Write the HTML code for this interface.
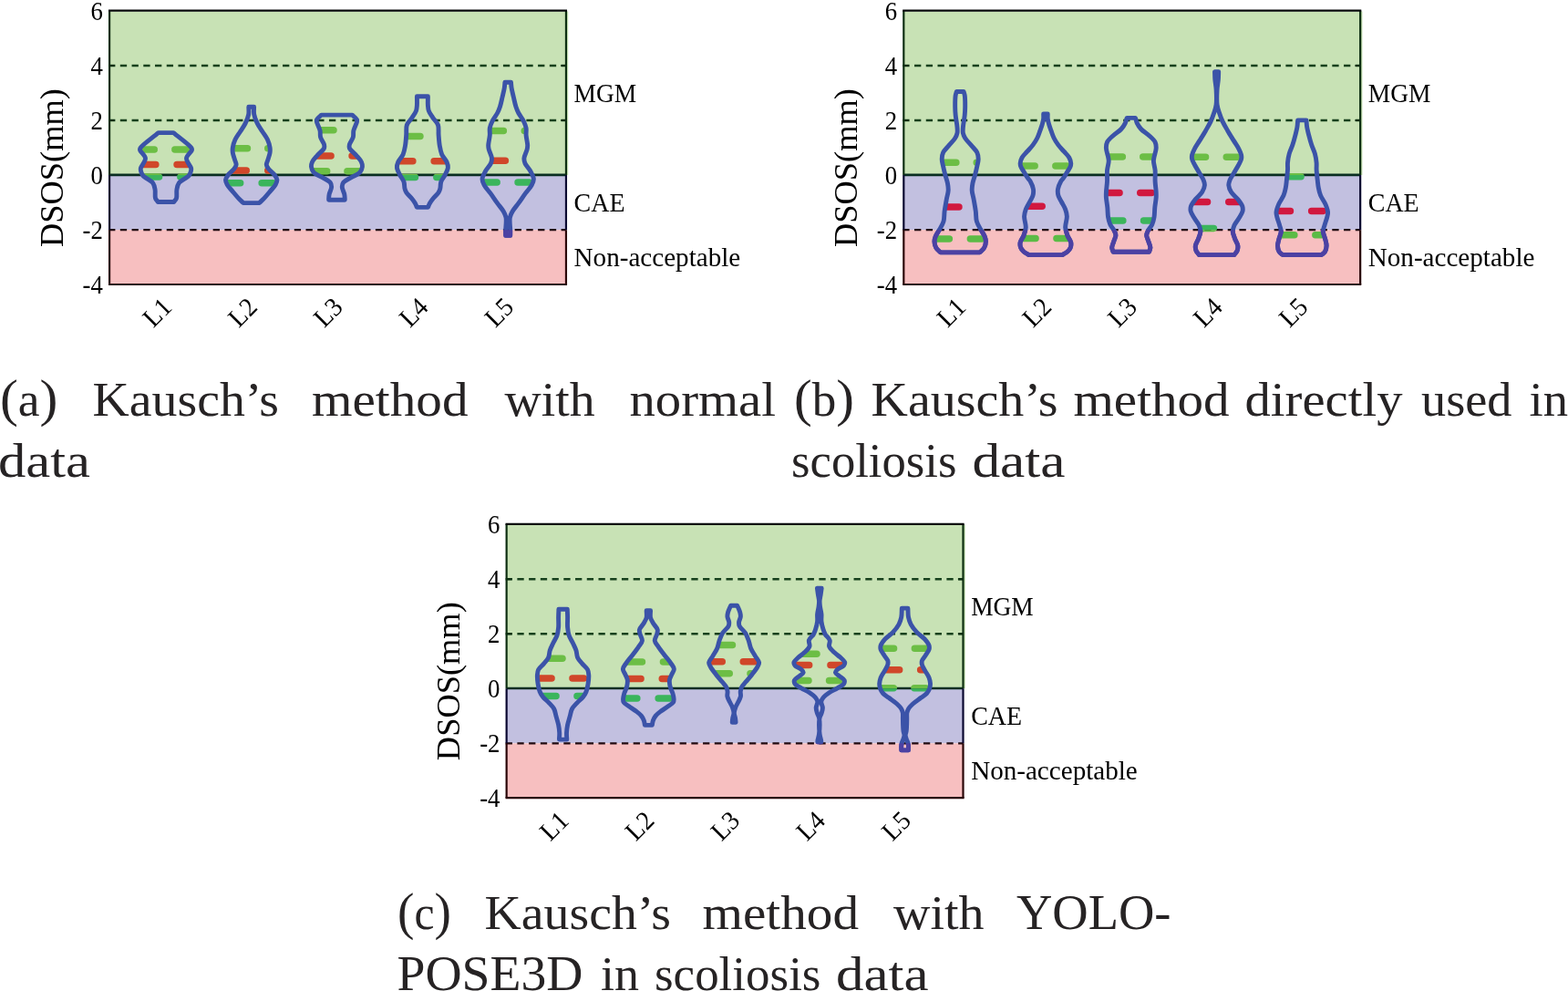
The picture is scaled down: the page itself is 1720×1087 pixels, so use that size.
<!DOCTYPE html>
<html lang="en">
<head>
<meta charset="utf-8">
<title>DSOS violin plots</title>
<style>
html,body{margin:0;padding:0;background:#fff}
body{width:1720px;height:1087px;overflow:hidden;position:relative}
svg{position:absolute;left:0;top:0;display:block;filter:blur(0.4px)}
svg text{font-family:"Liberation Serif","DejaVu Serif",serif;white-space:pre}
</style>
</head>
<body>
<svg width="1720" height="1087" viewBox="0 0 1720 1087">
<defs>
<clipPath id="zag"><rect x="117.1" y="8.6" width="506.85" height="183.4"/></clipPath>
<clipPath id="zap"><rect x="117.1" y="192" width="506.85" height="60.16"/></clipPath>
<clipPath id="zak"><rect x="117.1" y="252.16" width="506.85" height="62.84"/></clipPath>
<clipPath id="zbg"><rect x="988.3" y="8.6" width="506.85" height="183.4"/></clipPath>
<clipPath id="zbp"><rect x="988.3" y="192" width="506.85" height="60.16"/></clipPath>
<clipPath id="zbk"><rect x="988.3" y="252.16" width="506.85" height="62.84"/></clipPath>
<clipPath id="zcg"><rect x="552.65" y="571.8" width="506.85" height="183.4"/></clipPath>
<clipPath id="zcp"><rect x="552.65" y="755.2" width="506.85" height="60.16"/></clipPath>
<clipPath id="zck"><rect x="552.65" y="815.36" width="506.85" height="62.84"/></clipPath>
<clipPath id="va1"><path d="M173.7 145.6L190.3 145.6C196.87 151.13 208.05 158.97 210 162.2C210.59 163.18 210.68 163.53 210.5 164.5C210.11 166.6 204.71 170.46 204.5 173.7C204.28 177.05 209.05 181.89 209.6 184.3C209.86 185.46 209.81 185.96 209.6 187C209.29 188.56 208.74 190.76 207.3 192.6C205.13 195.38 198.37 197.75 196.2 200.8C194.57 203.09 194.36 205.57 193.9 208.2C193.4 211.07 194.29 215.03 193.5 217.4C192.92 219.14 191.63 220.13 190.7 221.5L173.3 221.5C172.37 220.13 171.08 219.14 170.5 217.4C169.71 215.03 170.6 211.07 170.1 208.2C169.64 205.57 169.43 203.09 167.8 200.8C165.63 197.75 158.87 195.38 156.7 192.6C155.26 190.76 154.71 188.56 154.4 187C154.19 185.96 154.14 185.46 154.4 184.3C154.95 181.89 159.72 177.05 159.5 173.7C159.29 170.46 153.89 166.6 153.5 164.5C153.32 163.53 153.41 163.18 154 162.2C155.95 158.97 167.13 151.13 173.7 145.6Z"/></clipPath>
<clipPath id="va2"><path d="M272.8 117.3L278.6 117.3C278.63 120.03 278.19 122.68 278.7 125.5C279.28 128.69 280.78 132.27 282.3 135.4C283.81 138.5 285.96 141.26 287.8 144.2C289.66 147.16 292 150.05 293.4 153.1C294.71 155.96 295.71 159.28 296.1 161.9C296.4 163.92 296.38 165.43 296.1 167.4C295.77 169.77 294.58 172.74 293.9 175.1C293.32 177.11 292.14 178.97 292.3 180.7C292.45 182.29 293.4 183.58 294.5 185.1C296.01 187.2 299.48 189.47 301.1 191.7C302.42 193.51 303.74 195.33 303.9 197.2C304.05 199 303.18 200.87 302.2 202.7C300.99 204.94 298.63 207.1 296.7 209.4C294.61 211.89 292.26 214.79 290.1 217.1C288.2 219.13 286.37 220.77 284.5 222.6L266.9 222.6C265.03 220.77 263.2 219.13 261.3 217.1C259.14 214.79 256.79 211.89 254.7 209.4C252.77 207.1 250.41 204.94 249.2 202.7C248.22 200.87 247.35 199 247.5 197.2C247.66 195.33 248.98 193.51 250.3 191.7C251.92 189.47 255.39 187.2 256.9 185.1C258 183.58 258.95 182.29 259.1 180.7C259.26 178.97 258.08 177.11 257.5 175.1C256.82 172.74 255.63 169.77 255.3 167.4C255.02 165.43 255 163.92 255.3 161.9C255.69 159.28 256.69 155.96 258 153.1C259.4 150.05 261.74 147.16 263.6 144.2C265.44 141.26 267.59 138.5 269.1 135.4C270.62 132.27 272.12 128.69 272.7 125.5C273.21 122.68 272.77 120.03 272.8 117.3Z"/></clipPath>
<clipPath id="va3"><path d="M352.55 126.1L386.35 126.1C388.05 127.8 390.82 129.68 391.45 131.2C391.82 132.1 391.65 132.62 391.45 133.7C391.05 135.89 388.5 140.3 387.85 143.3C387.3 145.8 387.99 148.02 387.35 150.4C386.62 153.08 383.88 156.22 383.35 158.5C383 160.02 382.78 161.06 383.35 162.5C384.3 164.9 388.68 167.94 390.95 170.6C392.99 173 395.41 175.41 396.45 177.7C397.24 179.44 397.63 181.06 397.45 182.8C397.25 184.75 396.49 187.01 394.95 188.8C392.87 191.21 388.02 192.94 384.85 194.9C381.99 196.66 378.29 197.98 376.75 200C375.62 201.49 375.24 203.13 375.25 205C375.26 207.38 377.26 210.69 377.75 213.1C378.13 214.97 378.2 217.16 378.25 218.2C378.27 218.66 378.25 218.87 378.25 219.2L360.65 219.2C360.65 218.87 360.63 218.66 360.65 218.2C360.7 217.16 360.77 214.97 361.15 213.1C361.64 210.69 363.64 207.38 363.65 205C363.66 203.13 363.28 201.49 362.15 200C360.61 197.98 356.91 196.66 354.05 194.9C350.88 192.94 346.03 191.21 343.95 188.8C342.41 187.01 341.65 184.75 341.45 182.8C341.27 181.06 341.66 179.44 342.45 177.7C343.49 175.41 345.91 173 347.95 170.6C350.22 167.94 354.6 164.9 355.55 162.5C356.12 161.06 355.9 160.02 355.55 158.5C355.02 156.22 352.28 153.08 351.55 150.4C350.91 148.02 351.6 145.8 351.05 143.3C350.4 140.3 347.85 135.89 347.45 133.7C347.25 132.62 347.08 132.1 347.45 131.2C348.08 129.68 350.85 127.8 352.55 126.1Z"/></clipPath>
<clipPath id="va4"><path d="M457.4 105.7L469.4 105.7C469.4 108.97 469.19 112.64 469.4 115.5C469.57 117.75 469.59 119.48 470.3 121.5C471.13 123.87 472.91 126.25 474.5 128.7C476.27 131.43 479.39 133.95 480.5 137.1C481.63 140.31 480.81 144.13 481.1 147.8C481.4 151.69 481.65 156.05 482.3 159.8C482.89 163.2 483.4 166.42 484.7 169.4C486 172.38 489 175.06 490.1 177.7C490.97 179.78 491.58 181.56 491.4 183.7C491.18 186.3 489.3 189.44 488 192.1C486.75 194.66 484.66 196.87 483.8 199.4C482.99 201.78 483.37 204.68 482.8 206.8C482.35 208.49 481.96 209.67 481 211.2C479.7 213.29 476.79 215.69 475.1 217.8C473.67 219.6 472.36 221.29 471.4 223C470.56 224.48 470.13 225.93 469.5 227.4L457.3 227.4C456.67 225.93 456.24 224.48 455.4 223C454.44 221.29 453.13 219.6 451.7 217.8C450.01 215.69 447.1 213.29 445.8 211.2C444.84 209.67 444.45 208.49 444 206.8C443.43 204.68 443.81 201.78 443 199.4C442.14 196.87 440.05 194.66 438.8 192.1C437.5 189.44 435.62 186.3 435.4 183.7C435.22 181.56 435.83 179.78 436.7 177.7C437.8 175.06 440.8 172.38 442.1 169.4C443.4 166.42 443.91 163.2 444.5 159.8C445.15 156.05 445.4 151.69 445.7 147.8C445.99 144.13 445.17 140.31 446.3 137.1C447.41 133.95 450.53 131.43 452.3 128.7C453.89 126.25 455.67 123.87 456.5 121.5C457.21 119.48 457.23 117.75 457.4 115.5C457.61 112.64 457.4 108.97 457.4 105.7Z"/></clipPath>
<clipPath id="va5"><path d="M553.9 90.3L560.5 90.3C560.7 92.33 560.74 94.13 561.1 96.4C561.57 99.31 562.51 102.92 563.3 106.3C564.14 109.87 564.95 114.12 566 117.3C566.84 119.85 567.59 121.67 568.8 124C570.24 126.79 572.88 129.89 574.3 132.8C575.56 135.39 576.64 137.89 577.1 140.5C577.55 143.03 576.9 145.41 577.1 148.2C577.34 151.57 578.66 156.44 578.7 159.3C578.73 161.1 578.58 161.96 578.2 163.7C577.61 166.37 575.08 170.75 574.9 173.6C574.76 175.71 575.17 177.21 576 179.2C577.13 181.91 580.4 185.01 582 188C583.47 190.75 585.31 193.74 585.4 196.4C585.48 198.74 584.4 200.82 583.2 203.1C581.7 205.96 578.78 208.78 576.5 211.9C573.99 215.34 571.29 219.44 568.8 222.9C566.54 226.04 563.82 228.96 562.2 231.8C560.89 234.08 559.88 236.26 559.4 238.4C558.98 240.28 559.17 241.91 559.2 243.9C559.23 246.25 559.62 249.11 559.7 251.6C559.78 253.94 559.7 256.13 559.7 258.4L554.7 258.4C554.7 256.13 554.62 253.94 554.7 251.6C554.78 249.11 555.17 246.25 555.2 243.9C555.23 241.91 555.42 240.28 555 238.4C554.52 236.26 553.51 234.08 552.2 231.8C550.58 228.96 547.86 226.04 545.6 222.9C543.11 219.44 540.41 215.34 537.9 211.9C535.62 208.78 532.7 205.96 531.2 203.1C530 200.82 528.92 198.74 529 196.4C529.09 193.74 530.93 190.75 532.4 188C534 185.01 537.27 181.91 538.4 179.2C539.23 177.21 539.64 175.71 539.5 173.6C539.32 170.75 536.79 166.37 536.2 163.7C535.82 161.96 535.67 161.1 535.7 159.3C535.74 156.44 537.06 151.57 537.3 148.2C537.5 145.41 536.85 143.03 537.3 140.5C537.76 137.89 538.84 135.39 540.1 132.8C541.52 129.89 544.16 126.79 545.6 124C546.81 121.67 547.56 119.85 548.4 117.3C549.45 114.12 550.26 109.87 551.1 106.3C551.89 102.92 552.83 99.31 553.3 96.4C553.66 94.13 553.7 92.33 553.9 90.3Z"/></clipPath>
<clipPath id="vb1"><path d="M1049.3 100.5L1057.1 100.5C1057.47 101.8 1057.93 102.69 1058.2 104.4C1058.69 107.48 1058.74 113.65 1058.7 117.6C1058.67 120.83 1058.51 123.18 1058.2 126.4C1057.82 130.34 1056.65 135.87 1056.4 139.5C1056.22 142.07 1055.98 144.05 1056.4 146.1C1056.79 148.03 1057.53 149.61 1058.7 151.5C1060.27 154.04 1063.38 156.92 1065.6 159.6C1067.74 162.18 1070.55 164.62 1071.8 167.3C1072.87 169.61 1073.17 172.11 1073.2 174.5C1073.23 176.87 1072.52 179.06 1072 181.6C1071.39 184.59 1070.54 188.1 1069.7 191.3C1068.87 194.47 1067.58 197.66 1067 200.7C1066.47 203.48 1066.07 205.98 1066.2 208.8C1066.35 211.92 1067.47 215.09 1068.1 218.6C1068.83 222.67 1069.74 227.58 1070.3 231.8C1070.81 235.65 1070.42 239.5 1071.4 242.9C1072.32 246.1 1074.29 248.88 1075.8 251.7C1077.23 254.37 1079.27 256.98 1080.2 259.4C1080.94 261.33 1081.43 262.98 1081.4 264.9C1081.36 267.03 1080.79 269.62 1079.7 271.6C1078.58 273.63 1076.37 275.13 1074.7 276.9L1031.7 276.9C1030.03 275.13 1027.82 273.63 1026.7 271.6C1025.61 269.62 1025.04 267.03 1025 264.9C1024.97 262.98 1025.46 261.33 1026.2 259.4C1027.13 256.98 1029.17 254.37 1030.6 251.7C1032.11 248.88 1034.08 246.1 1035 242.9C1035.98 239.5 1035.59 235.65 1036.1 231.8C1036.66 227.58 1037.57 222.67 1038.3 218.6C1038.93 215.09 1040.05 211.92 1040.2 208.8C1040.33 205.98 1039.93 203.48 1039.4 200.7C1038.82 197.66 1037.53 194.47 1036.7 191.3C1035.86 188.1 1035.01 184.59 1034.4 181.6C1033.88 179.06 1033.17 176.87 1033.2 174.5C1033.23 172.11 1033.53 169.61 1034.6 167.3C1035.85 164.62 1038.66 162.18 1040.8 159.6C1043.02 156.92 1046.13 154.04 1047.7 151.5C1048.87 149.61 1049.61 148.03 1050 146.1C1050.42 144.05 1050.18 142.07 1050 139.5C1049.75 135.87 1048.58 130.34 1048.2 126.4C1047.89 123.18 1047.73 120.83 1047.7 117.6C1047.66 113.65 1047.71 107.48 1048.2 104.4C1048.47 102.69 1048.93 101.8 1049.3 100.5Z"/></clipPath>
<clipPath id="vb2"><path d="M1144.65 124.9L1149.25 124.9C1149.25 126.73 1149.03 128.51 1149.25 130.4C1149.49 132.47 1150.14 134.68 1150.75 136.8C1151.37 138.95 1152.12 140.94 1152.95 143.2C1153.9 145.8 1154.84 148.87 1156.15 151.5C1157.45 154.1 1158.98 156.51 1160.75 158.9C1162.62 161.42 1165.09 163.83 1167.15 166.2C1169.08 168.43 1171.47 170.4 1172.75 172.7C1173.88 174.73 1174.64 177.25 1174.75 179.1C1174.83 180.49 1174.54 181.49 1174.05 182.8C1173.41 184.5 1172.03 186.34 1170.85 188.3C1169.47 190.59 1167.63 193.72 1166.25 195.7C1165.27 197.11 1164.38 197.71 1163.55 199.2C1162.38 201.31 1160.84 204.79 1160.45 207.5C1160.1 209.95 1160.31 212.4 1160.95 214.7C1161.61 217.07 1163.23 219.14 1164.45 221.5C1165.78 224.08 1167.66 226.87 1168.65 229.6C1169.57 232.14 1170.24 234.43 1170.35 237.3C1170.49 240.89 1168.43 245.78 1168.65 249.5C1168.84 252.69 1169.91 255.51 1170.95 258.3C1171.96 261.01 1174.3 263.58 1174.75 266C1175.12 267.96 1174.89 269.93 1174.25 271.6C1173.62 273.26 1172.33 274.71 1170.95 276C1169.43 277.42 1167.22 278.4 1165.35 279.6L1128.55 279.6C1126.68 278.4 1124.47 277.42 1122.95 276C1121.57 274.71 1120.28 273.26 1119.65 271.6C1119.01 269.93 1118.78 267.96 1119.15 266C1119.6 263.58 1121.94 261.01 1122.95 258.3C1123.99 255.51 1125.06 252.69 1125.25 249.5C1125.47 245.78 1123.41 240.89 1123.55 237.3C1123.66 234.43 1124.33 232.14 1125.25 229.6C1126.24 226.87 1128.12 224.08 1129.45 221.5C1130.67 219.14 1132.29 217.07 1132.95 214.7C1133.59 212.4 1133.8 209.95 1133.45 207.5C1133.06 204.79 1131.52 201.31 1130.35 199.2C1129.52 197.71 1128.63 197.11 1127.65 195.7C1126.27 193.72 1124.43 190.59 1123.05 188.3C1121.87 186.34 1120.49 184.5 1119.85 182.8C1119.36 181.49 1119.07 180.49 1119.15 179.1C1119.26 177.25 1120.02 174.73 1121.15 172.7C1122.43 170.4 1124.82 168.43 1126.75 166.2C1128.81 163.83 1131.28 161.42 1133.15 158.9C1134.92 156.51 1136.45 154.1 1137.75 151.5C1139.06 148.87 1140 145.8 1140.95 143.2C1141.78 140.94 1142.53 138.95 1143.15 136.8C1143.76 134.68 1144.41 132.47 1144.65 130.4C1144.87 128.51 1144.65 126.73 1144.65 124.9Z"/></clipPath>
<clipPath id="vb3"><path d="M1236.1 129.4L1245.5 129.4C1246.07 131.23 1246.32 133.05 1247.2 134.9C1248.23 137.07 1249.68 139.39 1251.6 141.5C1253.91 144.03 1257.83 146.21 1260.5 148.7C1262.95 150.99 1265.86 153.27 1267.1 155.8C1268.14 157.92 1268.27 160.06 1268.2 162.5C1268.12 165.49 1266.47 169.75 1266 172.4C1265.69 174.15 1265.37 175.04 1265.4 176.8C1265.44 179.46 1266.8 183.29 1267.1 186.8C1267.42 190.63 1266.92 194.87 1267.1 198.9C1267.28 202.94 1268.05 207.73 1268.2 211C1268.3 213.22 1268.34 214.43 1268.2 216.6C1268.01 219.62 1267.17 223.78 1266.8 227.4C1266.43 231.04 1266.58 235.07 1266 238.4C1265.5 241.25 1264.91 243.79 1263.8 246.2C1262.7 248.59 1260.43 250.63 1259.4 252.8C1258.52 254.65 1257.68 256.39 1257.7 258.3C1257.72 260.4 1259.2 262.69 1259.9 264.9C1260.6 267.12 1261.9 269.56 1261.9 271.6C1261.9 273.31 1260.97 274.73 1260.5 276.3L1221.1 276.3C1220.63 274.73 1219.7 273.31 1219.7 271.6C1219.7 269.56 1221 267.12 1221.7 264.9C1222.4 262.69 1223.88 260.4 1223.9 258.3C1223.92 256.39 1223.08 254.65 1222.2 252.8C1221.17 250.63 1218.9 248.59 1217.8 246.2C1216.69 243.79 1216.1 241.25 1215.6 238.4C1215.02 235.07 1215.17 231.04 1214.8 227.4C1214.43 223.78 1213.59 219.62 1213.4 216.6C1213.26 214.43 1213.3 213.22 1213.4 211C1213.55 207.73 1214.32 202.94 1214.5 198.9C1214.68 194.87 1214.18 190.63 1214.5 186.8C1214.8 183.29 1216.16 179.46 1216.2 176.8C1216.23 175.04 1215.91 174.15 1215.6 172.4C1215.13 169.75 1213.48 165.49 1213.4 162.5C1213.33 160.06 1213.46 157.92 1214.5 155.8C1215.74 153.27 1218.65 150.99 1221.1 148.7C1223.77 146.21 1227.69 144.03 1230 141.5C1231.92 139.39 1233.37 137.07 1234.4 134.9C1235.28 133.05 1235.53 131.23 1236.1 129.4Z"/></clipPath>
<clipPath id="vb4"><path d="M1332.5 78.6L1336.7 78.6C1336.6 81.43 1336.63 84.09 1336.4 87.1C1336.14 90.54 1335.34 94.05 1335.1 98.1C1334.81 103.06 1334.5 110.07 1335.1 114.7C1335.54 118.13 1336.44 120.51 1337.4 123.5C1338.44 126.73 1339.69 130.14 1341.2 133.4C1342.77 136.78 1344.74 140.01 1346.7 143.4C1348.79 147 1351.27 150.93 1353.4 154.4C1355.32 157.53 1357.47 160.5 1358.9 163.3C1360.08 165.61 1361.2 167.86 1361.6 169.9C1361.92 171.54 1361.96 172.88 1361.6 174.5C1361.16 176.53 1359.8 178.69 1358.6 181C1357.16 183.77 1355.05 187.04 1353.4 189.9C1351.87 192.56 1349.93 195.18 1349 197.6C1348.26 199.53 1347.67 201.13 1347.8 203.1C1347.96 205.47 1349.12 208.37 1350.6 210.8C1352.29 213.57 1355.71 215.92 1357.8 218.6C1359.74 221.1 1362.02 223.85 1362.8 226.3C1363.4 228.2 1363.44 229.87 1363 231.8C1362.44 234.24 1360.4 237.04 1358.9 239.6C1357.37 242.21 1355 244.74 1353.9 247.3C1352.95 249.5 1352.25 251.62 1352.3 253.9C1352.35 256.37 1353.6 259.05 1354.5 261.6C1355.42 264.22 1357.45 266.98 1357.8 269.4C1358.09 271.35 1357.84 273.21 1357.2 274.9C1356.55 276.62 1355 278.03 1353.9 279.6L1315.3 279.6C1314.2 278.03 1312.65 276.62 1312 274.9C1311.36 273.21 1311.11 271.35 1311.4 269.4C1311.75 266.98 1313.78 264.22 1314.7 261.6C1315.6 259.05 1316.85 256.37 1316.9 253.9C1316.95 251.62 1316.25 249.5 1315.3 247.3C1314.2 244.74 1311.83 242.21 1310.3 239.6C1308.8 237.04 1306.76 234.24 1306.2 231.8C1305.76 229.87 1305.8 228.2 1306.4 226.3C1307.18 223.85 1309.46 221.1 1311.4 218.6C1313.49 215.92 1316.91 213.57 1318.6 210.8C1320.08 208.37 1321.24 205.47 1321.4 203.1C1321.53 201.13 1320.94 199.53 1320.2 197.6C1319.27 195.18 1317.33 192.56 1315.8 189.9C1314.15 187.04 1312.04 183.77 1310.6 181C1309.4 178.69 1308.04 176.53 1307.6 174.5C1307.24 172.88 1307.28 171.54 1307.6 169.9C1308 167.86 1309.12 165.61 1310.3 163.3C1311.73 160.5 1313.88 157.53 1315.8 154.4C1317.93 150.93 1320.41 147 1322.5 143.4C1324.46 140.01 1326.43 136.78 1328 133.4C1329.51 130.14 1330.76 126.73 1331.8 123.5C1332.76 120.51 1333.66 118.13 1334.1 114.7C1334.7 110.07 1334.39 103.06 1334.1 98.1C1333.86 94.05 1333.06 90.54 1332.8 87.1C1332.57 84.09 1332.6 81.43 1332.5 78.6Z"/></clipPath>
<clipPath id="vb5"><path d="M1423.6 131.9L1433 131.9C1433.2 134.2 1433.22 136.31 1433.6 138.8C1434.06 141.82 1434.97 145.41 1435.8 148.7C1436.64 152.01 1437.51 155.32 1438.6 158.6C1439.71 161.95 1441.48 165.23 1442.4 168.6C1443.29 171.87 1443.84 175.4 1444.1 178.5C1444.33 181.22 1443.96 183.4 1444.1 186.2C1444.27 189.57 1444.81 193.83 1445.2 197.3C1445.55 200.38 1445.74 203.16 1446.3 206C1446.85 208.79 1447.37 211.41 1448.5 214.2C1449.8 217.42 1452.62 220.82 1454 224.1C1455.24 227.05 1456.44 230.29 1456.6 232.9C1456.73 234.93 1456.18 236.37 1455.7 238.4C1455.07 241.03 1453.67 244.54 1452.9 247.3C1452.25 249.65 1451.25 251.62 1451.3 253.9C1451.35 256.37 1452.87 259.01 1453.5 261.6C1454.13 264.18 1455.14 266.91 1455.1 269.4C1455.06 271.7 1454.54 274.26 1453.5 276C1452.59 277.52 1450.9 278.33 1449.6 279.5L1407 279.5C1405.7 278.33 1404.01 277.52 1403.1 276C1402.06 274.26 1401.54 271.7 1401.5 269.4C1401.46 266.91 1402.47 264.18 1403.1 261.6C1403.73 259.01 1405.25 256.37 1405.3 253.9C1405.35 251.62 1404.35 249.65 1403.7 247.3C1402.93 244.54 1401.53 241.03 1400.9 238.4C1400.42 236.37 1399.87 234.93 1400 232.9C1400.16 230.29 1401.36 227.05 1402.6 224.1C1403.98 220.82 1406.8 217.42 1408.1 214.2C1409.23 211.41 1409.75 208.79 1410.3 206C1410.86 203.16 1411.05 200.38 1411.4 197.3C1411.79 193.83 1412.33 189.57 1412.5 186.2C1412.64 183.4 1412.27 181.22 1412.5 178.5C1412.76 175.4 1413.31 171.87 1414.2 168.6C1415.12 165.23 1416.89 161.95 1418 158.6C1419.09 155.32 1419.96 152.01 1420.8 148.7C1421.63 145.41 1422.54 141.82 1423 138.8C1423.38 136.31 1423.4 134.2 1423.6 131.9Z"/></clipPath>
<clipPath id="vc1"><path d="M612.9 668.2L622.3 668.2C622.4 671.17 622.55 673.98 622.6 677.1C622.66 680.57 622.29 684.64 622.6 688.1C622.88 691.24 623.24 694.11 624.2 697C625.2 700.02 627.26 702.95 628.6 705.8C629.84 708.44 631.16 710.89 632 713.5C632.81 716.02 632.53 718.83 633.6 721.2C634.7 723.64 636.8 725.72 638.6 727.9C640.46 730.15 643.43 732.18 644.6 734.5C645.57 736.42 645.66 738.26 645.8 740.5C645.97 743.29 645.58 746.91 645.1 750C644.63 753.01 644.04 756.25 643 758.8C642.11 760.98 641.07 762.65 639.6 764.5C637.89 766.66 635.13 768.61 633.1 770.8C631.1 772.95 628.8 775.04 627.5 777.5C626.25 779.86 626.06 782.47 625.3 785.2C624.44 788.29 623.24 791.87 622.6 795.1C622 798.12 621.61 801.2 621.5 804C621.4 806.5 621.7 808.73 621.8 811.1L613.4 811.1C613.5 808.73 613.8 806.5 613.7 804C613.59 801.2 613.2 798.12 612.6 795.1C611.96 791.87 610.76 788.29 609.9 785.2C609.14 782.47 608.95 779.86 607.7 777.5C606.4 775.04 604.1 772.95 602.1 770.8C600.07 768.61 597.31 766.66 595.6 764.5C594.13 762.65 593.09 760.98 592.2 758.8C591.16 756.25 590.57 753.01 590.1 750C589.62 746.91 589.23 743.29 589.4 740.5C589.54 738.26 589.63 736.42 590.6 734.5C591.77 732.18 594.74 730.15 596.6 727.9C598.4 725.72 600.5 723.64 601.6 721.2C602.67 718.83 602.39 716.02 603.2 713.5C604.04 710.89 605.36 708.44 606.6 705.8C607.94 702.95 610 700.02 611 697C611.96 694.11 612.32 691.24 612.6 688.1C612.91 684.64 612.54 680.57 612.6 677.1C612.65 673.98 612.8 671.17 612.9 668.2Z"/></clipPath>
<clipPath id="vc2"><path d="M709.15 669.8L713.55 669.8C713.55 672.37 713.01 675.15 713.55 677.5C714.05 679.69 715.28 681.45 716.45 683.5C717.78 685.84 720.72 688.45 721.25 690.7C721.65 692.38 721.04 693.76 720.65 695.5C720.16 697.68 718 700.36 718.25 702.7C718.51 705.14 720.78 707.3 722.45 709.8C724.46 712.81 727.3 716.32 729.65 719.4C731.86 722.3 734.45 725.17 736.15 727.8C737.51 729.91 739.26 731.79 739.35 733.8C739.44 735.75 737.67 737.72 736.85 739.7C736.03 741.69 734.77 743.57 734.45 745.7C734.11 747.95 734.51 750.45 735.05 752.9C735.66 755.63 737.46 758.77 738.15 761.3C738.7 763.3 739.14 765.17 739.15 766.8C739.16 768.1 739.22 769.18 738.55 770.3C737.59 771.9 734.85 773.28 732.75 774.8C730.39 776.51 727.38 778.2 725.05 780C722.92 781.64 720.74 783.25 719.25 785.1C717.94 786.72 717 788.52 716.35 790.3C715.74 791.96 715.68 793.7 715.35 795.4L707.35 795.4C707.02 793.7 706.96 791.96 706.35 790.3C705.7 788.52 704.76 786.72 703.45 785.1C701.96 783.25 699.78 781.64 697.65 780C695.32 778.2 692.31 776.51 689.95 774.8C687.85 773.28 685.11 771.9 684.15 770.3C683.48 769.18 683.54 768.1 683.55 766.8C683.56 765.17 684 763.3 684.55 761.3C685.24 758.77 687.04 755.63 687.65 752.9C688.19 750.45 688.59 747.95 688.25 745.7C687.93 743.57 686.67 741.69 685.85 739.7C685.03 737.72 683.26 735.75 683.35 733.8C683.44 731.79 685.19 729.91 686.55 727.8C688.25 725.17 690.84 722.3 693.05 719.4C695.4 716.32 698.24 712.81 700.25 709.8C701.92 707.3 704.19 705.14 704.45 702.7C704.7 700.36 702.54 697.68 702.05 695.5C701.66 693.76 701.05 692.38 701.45 690.7C701.98 688.45 704.92 685.84 706.25 683.5C707.42 681.45 708.65 679.69 709.15 677.5C709.69 675.15 709.15 672.37 709.15 669.8Z"/></clipPath>
<clipPath id="vc3"><path d="M801.55 664.3L808.75 664.3C809.75 666.77 811.17 669.46 811.75 671.7C812.2 673.44 812.49 674.83 812.35 676.5C812.19 678.4 810.69 680.66 810.55 682.5C810.44 684.01 810.47 685.19 811.15 686.7C812.2 689.04 816.04 691.72 817.75 694.5C819.35 697.11 820.26 699.99 821.25 702.8C822.22 705.56 822.5 708.47 823.65 711.2C824.86 714.08 826.9 716.91 828.45 719.6C829.89 722.1 832.47 724.62 832.65 726.8C832.79 728.5 831.78 729.77 830.85 731.5C829.52 733.97 826.99 737.14 824.85 739.9C822.64 742.75 819.78 745.82 817.75 748.3C816.18 750.23 814.57 751.69 813.65 753.5C812.83 755.1 812.45 756.79 812.25 758.5C812.05 760.23 812.79 761.98 812.45 763.8C812.06 765.9 810.62 768.21 809.65 770.3C808.72 772.3 807.47 774.12 806.75 776.1C806.06 777.99 805.38 779.94 805.35 781.9C805.32 783.9 806.37 786.12 806.65 788C806.89 789.58 806.92 790.93 807.05 792.4L803.25 792.4C803.38 790.93 803.41 789.58 803.65 788C803.93 786.12 804.98 783.9 804.95 781.9C804.92 779.94 804.24 777.99 803.55 776.1C802.83 774.12 801.58 772.3 800.65 770.3C799.68 768.21 798.24 765.9 797.85 763.8C797.51 761.98 798.25 760.23 798.05 758.5C797.85 756.79 797.47 755.1 796.65 753.5C795.73 751.69 794.12 750.23 792.55 748.3C790.52 745.82 787.66 742.75 785.45 739.9C783.31 737.14 780.78 733.97 779.45 731.5C778.52 729.77 777.51 728.5 777.65 726.8C777.83 724.62 780.41 722.1 781.85 719.6C783.4 716.91 785.44 714.08 786.65 711.2C787.8 708.47 788.08 705.56 789.05 702.8C790.04 699.99 790.95 697.11 792.55 694.5C794.26 691.72 798.1 689.04 799.15 686.7C799.83 685.19 799.86 684.01 799.75 682.5C799.61 680.66 798.11 678.4 797.95 676.5C797.81 674.83 798.1 673.44 798.55 671.7C799.13 669.46 800.55 666.77 801.55 664.3Z"/></clipPath>
<clipPath id="vc4"><path d="M896.4 645.2L901.2 645.2C900.9 647.33 900.63 649.37 900.3 651.6C899.94 654.05 899.2 656.83 899.1 659.3C899.01 661.58 899.31 663.62 899.6 665.9C899.92 668.38 900.77 671.01 901 673.6C901.23 676.18 900.7 678.74 901 681.4C901.32 684.26 902.2 687.64 903 690.2C903.65 692.28 904.16 693.85 905.2 695.7C906.43 697.88 909.53 699.95 910.2 702.3C910.81 704.41 908.94 706.9 909.6 709C910.34 711.37 913.07 713.59 915.1 715.6C917.14 717.62 919.81 719.19 921.8 721.1C923.64 722.86 926.35 724.9 926.7 726.6C926.94 727.77 926.42 728.85 925.6 729.9C924.33 731.53 920.07 732.83 918.5 734.4C917.43 735.47 916.25 736.62 916.4 737.7C916.58 739 919.17 740.17 920.7 741.5C922.41 742.99 925.57 744.51 926.2 746.2C926.67 747.46 926.39 748.98 925.6 750.2C924.46 751.97 921.03 753.27 918.5 754.8C915.73 756.48 912.27 757.96 909.6 759.8C907.15 761.49 904.5 763.41 903 765.3C901.87 766.73 900.99 768.04 900.8 769.7C900.57 771.66 902.36 774.27 902.4 776.4C902.44 778.32 901.84 780.09 901.3 781.9C900.75 783.76 899.56 784.99 899.1 787.4C898.3 791.57 898.6 800.65 899.1 805.1C899.41 807.85 900.34 810.11 900.6 811.7C900.74 812.59 900.73 813.1 900.8 813.8L896.8 813.8C896.87 813.1 896.86 812.59 897 811.7C897.26 810.11 898.19 807.85 898.5 805.1C899 800.65 899.3 791.57 898.5 787.4C898.04 784.99 896.85 783.76 896.3 781.9C895.76 780.09 895.16 778.32 895.2 776.4C895.24 774.27 897.03 771.66 896.8 769.7C896.61 768.04 895.73 766.73 894.6 765.3C893.1 763.41 890.45 761.49 888 759.8C885.33 757.96 881.87 756.48 879.1 754.8C876.57 753.27 873.14 751.97 872 750.2C871.21 748.98 870.93 747.46 871.4 746.2C872.03 744.51 875.19 742.99 876.9 741.5C878.43 740.17 881.02 739 881.2 737.7C881.35 736.62 880.17 735.47 879.1 734.4C877.53 732.83 873.27 731.53 872 729.9C871.18 728.85 870.66 727.77 870.9 726.6C871.25 724.9 873.96 722.86 875.8 721.1C877.79 719.19 880.46 717.62 882.5 715.6C884.53 713.59 887.26 711.37 888 709C888.66 706.9 886.79 704.41 887.4 702.3C888.07 699.95 891.17 697.88 892.4 695.7C893.44 693.85 893.95 692.28 894.6 690.2C895.4 687.64 896.28 684.26 896.6 681.4C896.9 678.74 896.37 676.18 896.6 673.6C896.83 671.01 897.68 668.38 898 665.9C898.29 663.62 898.59 661.58 898.5 659.3C898.4 656.83 897.66 654.05 897.3 651.6C896.97 649.37 896.7 647.33 896.4 645.2Z"/></clipPath>
<clipPath id="vc5"><path d="M989.3 667.1L995.9 667.1C996.1 670.43 995.88 674.02 996.5 677.1C997.06 679.88 997.84 682.25 999.2 684.8C1000.78 687.76 1003.28 690.88 1005.8 693.6C1008.42 696.43 1012.38 698.75 1014.7 701.4C1016.6 703.57 1018.47 705.93 1019.1 708C1019.57 709.54 1019.52 710.85 1019.1 712.4C1018.54 714.45 1016.52 716.91 1015.2 719C1013.96 720.96 1011.97 722.76 1011.4 724.6C1010.94 726.08 1011.03 727.43 1011.4 729C1011.88 731.03 1013.49 733.33 1014.7 735.6C1016.03 738.09 1018.13 740.76 1019.1 743.3C1019.95 745.52 1020.45 747.79 1020.5 749.9C1020.55 751.84 1020.24 753.74 1019.6 755.5C1018.95 757.28 1017.97 758.97 1016.6 760.5C1015 762.28 1012.58 763.57 1010.3 765.3C1007.59 767.35 1003.84 769.75 1001.4 772C999.42 773.83 997.6 775.66 996.5 777.5C995.63 778.96 995.2 780.29 994.9 781.9C994.56 783.74 994.84 785.82 994.8 788C994.75 790.53 994.72 793.7 994.6 796.2C994.5 798.3 994.46 800.2 994.2 802C993.97 803.6 993.17 805 993.2 806.5C993.23 808 993.92 809.56 994.4 811C994.86 812.39 995.65 813.71 996 815C996.31 816.13 996.42 817.11 996.5 818.3C996.59 819.7 996.43 821.37 996.4 822.9L988.8 822.9C988.77 821.37 988.61 819.7 988.7 818.3C988.78 817.11 988.89 816.13 989.2 815C989.55 813.71 990.34 812.39 990.8 811C991.28 809.56 991.97 808 992 806.5C992.03 805 991.23 803.6 991 802C990.74 800.2 990.7 798.3 990.6 796.2C990.48 793.7 990.45 790.53 990.4 788C990.36 785.82 990.64 783.74 990.3 781.9C990 780.29 989.57 778.96 988.7 777.5C987.6 775.66 985.78 773.83 983.8 772C981.36 769.75 977.61 767.35 974.9 765.3C972.62 763.57 970.2 762.28 968.6 760.5C967.23 758.97 966.25 757.28 965.6 755.5C964.96 753.74 964.65 751.84 964.7 749.9C964.75 747.79 965.25 745.52 966.1 743.3C967.07 740.76 969.17 738.09 970.5 735.6C971.71 733.33 973.32 731.03 973.8 729C974.17 727.43 974.26 726.08 973.8 724.6C973.23 722.76 971.24 720.96 970 719C968.68 716.91 966.66 714.45 966.1 712.4C965.68 710.85 965.63 709.54 966.1 708C966.73 705.93 968.6 703.57 970.5 701.4C972.82 698.75 976.78 696.43 979.4 693.6C981.92 690.88 984.42 687.76 986 684.8C987.36 682.25 988.14 679.88 988.7 677.1C989.32 674.02 989.1 670.43 989.3 667.1Z"/></clipPath>
</defs>
<!-- panel a -->
<g transform="translate(0 0)"><rect x="120.1" y="12.6" width="503.15" height="179.4" fill="#c8e2b5"/><rect x="120.1" y="192" width="500.85" height="60.16" fill="#c2c0e0"/><rect x="120.1" y="252.16" width="500.85" height="59.84" fill="#f7bfc0"/><line x1="119.1" y1="71.98" x2="620.95" y2="71.98" stroke="#16401c" stroke-width="2.4" stroke-dasharray="7.3 5.43"/><line x1="119.1" y1="132.04" x2="620.95" y2="132.04" stroke="#16401c" stroke-width="2.4" stroke-dasharray="7.3 5.43"/><line x1="119.1" y1="252.16" x2="620.95" y2="252.16" stroke="#220a10" stroke-width="2.4" stroke-dasharray="7.3 5.43"/><line x1="120.1" y1="191.85" x2="620.95" y2="191.85" stroke="#0a2e22" stroke-width="2.6"/></g>
<g clip-path="url(#va1)" fill="none" stroke-width="7.5" stroke-linecap="round"><path d="M153.25 164H169.25M191.85 164H204.35" stroke="#6cbe45"/><path d="M154.85 180.6H170.85M194.05 180.6H206.55" stroke="#d0472a"/><path d="M158.55 194.1H174.55M197.85 194.1H210.35" stroke="#6cbe45" clip-path="url(#zag)"/><path d="M158.55 194.1H174.55M197.85 194.1H210.35" stroke="#3bb55c" clip-path="url(#zap)"/></g><g clip-path="url(#va2)" fill="none" stroke-width="7.5" stroke-linecap="round"><path d="M255.45 162.8H271.45M293.75 162.8H306.25" stroke="#6cbe45"/><path d="M254.25 187H270.25M293.75 187H306.25" stroke="#d0472a"/><path d="M247.65 200.7H263.65M287.15 200.7H299.65" stroke="#3bb55c"/></g><g clip-path="url(#va3)" fill="none" stroke-width="7.5" stroke-linecap="round"><path d="M349.95 142.8H365.95" stroke="#6cbe45"/><path d="M347.05 171.1H363.05M386.05 171.1H398.55" stroke="#d0472a"/><path d="M342.65 187.8H358.65M380.95 187.8H393.45" stroke="#6cbe45"/></g><g clip-path="url(#va4)" fill="none" stroke-width="7.5" stroke-linecap="round"><path d="M444.95 149.4H460.95" stroke="#6cbe45"/><path d="M436.85 176.8H452.85M476.15 176.8H488.65" stroke="#d0472a"/><path d="M439.45 194.5H455.45M478.85 194.5H491.35" stroke="#6cbe45" clip-path="url(#zag)"/><path d="M439.45 194.5H455.45M478.85 194.5H491.35" stroke="#3bb55c" clip-path="url(#zap)"/></g><g clip-path="url(#va5)" fill="none" stroke-width="7.5" stroke-linecap="round"><path d="M536.35 143.6H552.35M575.25 143.6H587.75" stroke="#6cbe45"/><path d="M538.35 176.2H554.35" stroke="#d0472a"/><path d="M529.15 200H545.15M568.05 200H580.55" stroke="#3bb55c"/></g><g fill="none" stroke="#3b53a8" stroke-width="4.9" stroke-linejoin="round"><path d="M173.7 145.6L190.3 145.6C196.87 151.13 208.05 158.97 210 162.2C210.59 163.18 210.68 163.53 210.5 164.5C210.11 166.6 204.71 170.46 204.5 173.7C204.28 177.05 209.05 181.89 209.6 184.3C209.86 185.46 209.81 185.96 209.6 187C209.29 188.56 208.74 190.76 207.3 192.6C205.13 195.38 198.37 197.75 196.2 200.8C194.57 203.09 194.36 205.57 193.9 208.2C193.4 211.07 194.29 215.03 193.5 217.4C192.92 219.14 191.63 220.13 190.7 221.5L173.3 221.5C172.37 220.13 171.08 219.14 170.5 217.4C169.71 215.03 170.6 211.07 170.1 208.2C169.64 205.57 169.43 203.09 167.8 200.8C165.63 197.75 158.87 195.38 156.7 192.6C155.26 190.76 154.71 188.56 154.4 187C154.19 185.96 154.14 185.46 154.4 184.3C154.95 181.89 159.72 177.05 159.5 173.7C159.29 170.46 153.89 166.6 153.5 164.5C153.32 163.53 153.41 163.18 154 162.2C155.95 158.97 167.13 151.13 173.7 145.6Z"/><path d="M272.8 117.3L278.6 117.3C278.63 120.03 278.19 122.68 278.7 125.5C279.28 128.69 280.78 132.27 282.3 135.4C283.81 138.5 285.96 141.26 287.8 144.2C289.66 147.16 292 150.05 293.4 153.1C294.71 155.96 295.71 159.28 296.1 161.9C296.4 163.92 296.38 165.43 296.1 167.4C295.77 169.77 294.58 172.74 293.9 175.1C293.32 177.11 292.14 178.97 292.3 180.7C292.45 182.29 293.4 183.58 294.5 185.1C296.01 187.2 299.48 189.47 301.1 191.7C302.42 193.51 303.74 195.33 303.9 197.2C304.05 199 303.18 200.87 302.2 202.7C300.99 204.94 298.63 207.1 296.7 209.4C294.61 211.89 292.26 214.79 290.1 217.1C288.2 219.13 286.37 220.77 284.5 222.6L266.9 222.6C265.03 220.77 263.2 219.13 261.3 217.1C259.14 214.79 256.79 211.89 254.7 209.4C252.77 207.1 250.41 204.94 249.2 202.7C248.22 200.87 247.35 199 247.5 197.2C247.66 195.33 248.98 193.51 250.3 191.7C251.92 189.47 255.39 187.2 256.9 185.1C258 183.58 258.95 182.29 259.1 180.7C259.26 178.97 258.08 177.11 257.5 175.1C256.82 172.74 255.63 169.77 255.3 167.4C255.02 165.43 255 163.92 255.3 161.9C255.69 159.28 256.69 155.96 258 153.1C259.4 150.05 261.74 147.16 263.6 144.2C265.44 141.26 267.59 138.5 269.1 135.4C270.62 132.27 272.12 128.69 272.7 125.5C273.21 122.68 272.77 120.03 272.8 117.3Z"/><path d="M352.55 126.1L386.35 126.1C388.05 127.8 390.82 129.68 391.45 131.2C391.82 132.1 391.65 132.62 391.45 133.7C391.05 135.89 388.5 140.3 387.85 143.3C387.3 145.8 387.99 148.02 387.35 150.4C386.62 153.08 383.88 156.22 383.35 158.5C383 160.02 382.78 161.06 383.35 162.5C384.3 164.9 388.68 167.94 390.95 170.6C392.99 173 395.41 175.41 396.45 177.7C397.24 179.44 397.63 181.06 397.45 182.8C397.25 184.75 396.49 187.01 394.95 188.8C392.87 191.21 388.02 192.94 384.85 194.9C381.99 196.66 378.29 197.98 376.75 200C375.62 201.49 375.24 203.13 375.25 205C375.26 207.38 377.26 210.69 377.75 213.1C378.13 214.97 378.2 217.16 378.25 218.2C378.27 218.66 378.25 218.87 378.25 219.2L360.65 219.2C360.65 218.87 360.63 218.66 360.65 218.2C360.7 217.16 360.77 214.97 361.15 213.1C361.64 210.69 363.64 207.38 363.65 205C363.66 203.13 363.28 201.49 362.15 200C360.61 197.98 356.91 196.66 354.05 194.9C350.88 192.94 346.03 191.21 343.95 188.8C342.41 187.01 341.65 184.75 341.45 182.8C341.27 181.06 341.66 179.44 342.45 177.7C343.49 175.41 345.91 173 347.95 170.6C350.22 167.94 354.6 164.9 355.55 162.5C356.12 161.06 355.9 160.02 355.55 158.5C355.02 156.22 352.28 153.08 351.55 150.4C350.91 148.02 351.6 145.8 351.05 143.3C350.4 140.3 347.85 135.89 347.45 133.7C347.25 132.62 347.08 132.1 347.45 131.2C348.08 129.68 350.85 127.8 352.55 126.1Z"/><path d="M457.4 105.7L469.4 105.7C469.4 108.97 469.19 112.64 469.4 115.5C469.57 117.75 469.59 119.48 470.3 121.5C471.13 123.87 472.91 126.25 474.5 128.7C476.27 131.43 479.39 133.95 480.5 137.1C481.63 140.31 480.81 144.13 481.1 147.8C481.4 151.69 481.65 156.05 482.3 159.8C482.89 163.2 483.4 166.42 484.7 169.4C486 172.38 489 175.06 490.1 177.7C490.97 179.78 491.58 181.56 491.4 183.7C491.18 186.3 489.3 189.44 488 192.1C486.75 194.66 484.66 196.87 483.8 199.4C482.99 201.78 483.37 204.68 482.8 206.8C482.35 208.49 481.96 209.67 481 211.2C479.7 213.29 476.79 215.69 475.1 217.8C473.67 219.6 472.36 221.29 471.4 223C470.56 224.48 470.13 225.93 469.5 227.4L457.3 227.4C456.67 225.93 456.24 224.48 455.4 223C454.44 221.29 453.13 219.6 451.7 217.8C450.01 215.69 447.1 213.29 445.8 211.2C444.84 209.67 444.45 208.49 444 206.8C443.43 204.68 443.81 201.78 443 199.4C442.14 196.87 440.05 194.66 438.8 192.1C437.5 189.44 435.62 186.3 435.4 183.7C435.22 181.56 435.83 179.78 436.7 177.7C437.8 175.06 440.8 172.38 442.1 169.4C443.4 166.42 443.91 163.2 444.5 159.8C445.15 156.05 445.4 151.69 445.7 147.8C445.99 144.13 445.17 140.31 446.3 137.1C447.41 133.95 450.53 131.43 452.3 128.7C453.89 126.25 455.67 123.87 456.5 121.5C457.21 119.48 457.23 117.75 457.4 115.5C457.61 112.64 457.4 108.97 457.4 105.7Z"/><path d="M553.9 90.3L560.5 90.3C560.7 92.33 560.74 94.13 561.1 96.4C561.57 99.31 562.51 102.92 563.3 106.3C564.14 109.87 564.95 114.12 566 117.3C566.84 119.85 567.59 121.67 568.8 124C570.24 126.79 572.88 129.89 574.3 132.8C575.56 135.39 576.64 137.89 577.1 140.5C577.55 143.03 576.9 145.41 577.1 148.2C577.34 151.57 578.66 156.44 578.7 159.3C578.73 161.1 578.58 161.96 578.2 163.7C577.61 166.37 575.08 170.75 574.9 173.6C574.76 175.71 575.17 177.21 576 179.2C577.13 181.91 580.4 185.01 582 188C583.47 190.75 585.31 193.74 585.4 196.4C585.48 198.74 584.4 200.82 583.2 203.1C581.7 205.96 578.78 208.78 576.5 211.9C573.99 215.34 571.29 219.44 568.8 222.9C566.54 226.04 563.82 228.96 562.2 231.8C560.89 234.08 559.88 236.26 559.4 238.4C558.98 240.28 559.17 241.91 559.2 243.9C559.23 246.25 559.62 249.11 559.7 251.6C559.78 253.94 559.7 256.13 559.7 258.4L554.7 258.4C554.7 256.13 554.62 253.94 554.7 251.6C554.78 249.11 555.17 246.25 555.2 243.9C555.23 241.91 555.42 240.28 555 238.4C554.52 236.26 553.51 234.08 552.2 231.8C550.58 228.96 547.86 226.04 545.6 222.9C543.11 219.44 540.41 215.34 537.9 211.9C535.62 208.78 532.7 205.96 531.2 203.1C530 200.82 528.92 198.74 529 196.4C529.09 193.74 530.93 190.75 532.4 188C534 185.01 537.27 181.91 538.4 179.2C539.23 177.21 539.64 175.71 539.5 173.6C539.32 170.75 536.79 166.37 536.2 163.7C535.82 161.96 535.67 161.1 535.7 159.3C535.74 156.44 537.06 151.57 537.3 148.2C537.5 145.41 536.85 143.03 537.3 140.5C537.76 137.89 538.84 135.39 540.1 132.8C541.52 129.89 544.16 126.79 545.6 124C546.81 121.67 547.56 119.85 548.4 117.3C549.45 114.12 550.26 109.87 551.1 106.3C551.89 102.92 552.83 99.31 553.3 96.4C553.66 94.13 553.7 92.33 553.9 90.3Z"/></g><g fill="none" stroke="#4c41a3" stroke-width="4.9" stroke-linejoin="round" clip-path="url(#zak)"><path d="M553.9 90.3L560.5 90.3C560.7 92.33 560.74 94.13 561.1 96.4C561.57 99.31 562.51 102.92 563.3 106.3C564.14 109.87 564.95 114.12 566 117.3C566.84 119.85 567.59 121.67 568.8 124C570.24 126.79 572.88 129.89 574.3 132.8C575.56 135.39 576.64 137.89 577.1 140.5C577.55 143.03 576.9 145.41 577.1 148.2C577.34 151.57 578.66 156.44 578.7 159.3C578.73 161.1 578.58 161.96 578.2 163.7C577.61 166.37 575.08 170.75 574.9 173.6C574.76 175.71 575.17 177.21 576 179.2C577.13 181.91 580.4 185.01 582 188C583.47 190.75 585.31 193.74 585.4 196.4C585.48 198.74 584.4 200.82 583.2 203.1C581.7 205.96 578.78 208.78 576.5 211.9C573.99 215.34 571.29 219.44 568.8 222.9C566.54 226.04 563.82 228.96 562.2 231.8C560.89 234.08 559.88 236.26 559.4 238.4C558.98 240.28 559.17 241.91 559.2 243.9C559.23 246.25 559.62 249.11 559.7 251.6C559.78 253.94 559.7 256.13 559.7 258.4L554.7 258.4C554.7 256.13 554.62 253.94 554.7 251.6C554.78 249.11 555.17 246.25 555.2 243.9C555.23 241.91 555.42 240.28 555 238.4C554.52 236.26 553.51 234.08 552.2 231.8C550.58 228.96 547.86 226.04 545.6 222.9C543.11 219.44 540.41 215.34 537.9 211.9C535.62 208.78 532.7 205.96 531.2 203.1C530 200.82 528.92 198.74 529 196.4C529.09 193.74 530.93 190.75 532.4 188C534 185.01 537.27 181.91 538.4 179.2C539.23 177.21 539.64 175.71 539.5 173.6C539.32 170.75 536.79 166.37 536.2 163.7C535.82 161.96 535.67 161.1 535.7 159.3C535.74 156.44 537.06 151.57 537.3 148.2C537.5 145.41 536.85 143.03 537.3 140.5C537.76 137.89 538.84 135.39 540.1 132.8C541.52 129.89 544.16 126.79 545.6 124C546.81 121.67 547.56 119.85 548.4 117.3C549.45 114.12 550.26 109.87 551.1 106.3C551.89 102.92 552.83 99.31 553.3 96.4C553.66 94.13 553.7 92.33 553.9 90.3Z"/></g>
<g transform="translate(0 0)"><path d="M120.1 71.98h5.6M620.95 71.98h-5.6" stroke="#0e2f12" stroke-width="2" fill="none"/><path d="M120.1 132.04h5.6M620.95 132.04h-5.6" stroke="#0e2f12" stroke-width="2" fill="none"/><path d="M120.1 11.6V192M620.95 11.6V192" stroke="#0e2f12" stroke-width="2.2" fill="none"/><path d="M120.1 192V252.16M620.95 192V252.16" stroke="#0a0830" stroke-width="2.2" fill="none"/><path d="M120.1 252.16V312M620.95 252.16V312" stroke="#2a0608" stroke-width="2.2" fill="none"/><path d="M119 11.6H622.05" stroke="#06080a" stroke-width="2.2" fill="none"/><path d="M119 312H622.05" stroke="#2a0608" stroke-width="2.2" fill="none"/><g font-size="28.8" text-anchor="end" fill="#000"><text transform="translate(112.9 21.52) scale(0.93 1)">6</text><text transform="translate(112.9 81.58) scale(0.93 1)">4</text><text transform="translate(112.9 141.64) scale(0.93 1)">2</text><text transform="translate(112.9 201.7) scale(0.93 1)">0</text><text transform="translate(112.9 261.76) scale(0.93 1)">-2</text><text transform="translate(112.9 321.82) scale(0.93 1)">-4</text></g><text font-size="36.4" text-anchor="middle" transform="translate(68.5 184) rotate(-90)">DSOS(mm)</text><g font-size="29" text-anchor="end" fill="#000"><text transform="translate(189.9 338.6) rotate(-45)" textLength="30.6" lengthAdjust="spacingAndGlyphs">L1</text><text transform="translate(283.7 338.6) rotate(-45)" textLength="30.6" lengthAdjust="spacingAndGlyphs">L2</text><text transform="translate(377.5 338.6) rotate(-45)" textLength="30.6" lengthAdjust="spacingAndGlyphs">L3</text><text transform="translate(471.3 338.6) rotate(-45)" textLength="30.6" lengthAdjust="spacingAndGlyphs">L4</text><text transform="translate(565.1 338.6) rotate(-45)" textLength="30.6" lengthAdjust="spacingAndGlyphs">L5</text></g><g font-size="29" fill="#000"><text x="629.6" y="112.1" textLength="68.6" lengthAdjust="spacingAndGlyphs">MGM</text><text x="629.6" y="231.7" textLength="55.9" lengthAdjust="spacingAndGlyphs">CAE</text><text x="629.6" y="292.3" textLength="182.6" lengthAdjust="spacingAndGlyphs">Non-acceptable</text></g></g>
<!-- panel b -->
<g transform="translate(871.2 0)"><rect x="120.1" y="12.6" width="503.15" height="179.4" fill="#c8e2b5"/><rect x="120.1" y="192" width="500.85" height="60.16" fill="#c2c0e0"/><rect x="120.1" y="252.16" width="500.85" height="59.84" fill="#f7bfc0"/><line x1="119.1" y1="71.98" x2="620.95" y2="71.98" stroke="#16401c" stroke-width="2.4" stroke-dasharray="7.3 5.43"/><line x1="119.1" y1="132.04" x2="620.95" y2="132.04" stroke="#16401c" stroke-width="2.4" stroke-dasharray="7.3 5.43"/><line x1="119.1" y1="252.16" x2="620.95" y2="252.16" stroke="#220a10" stroke-width="2.4" stroke-dasharray="7.3 5.43"/><line x1="120.1" y1="191.85" x2="620.95" y2="191.85" stroke="#0a2e22" stroke-width="2.6"/></g>
<g clip-path="url(#vb1)" fill="none" stroke-width="7.5" stroke-linecap="round"><path d="M1032.85 178.3H1048.85M1071.25 178.3H1083.75" stroke="#6cbe45"/><path d="M1035.95 226.9H1051.95" stroke="#d1183f"/><path d="M1025.35 261.9H1041.35M1064.35 261.9H1076.85" stroke="#5cbb46"/></g><g clip-path="url(#vb2)" fill="none" stroke-width="7.5" stroke-linecap="round"><path d="M1119.15 182.1H1135.15M1157.85 182.1H1170.35" stroke="#6cbe45"/><path d="M1127.15 226.3H1143.15" stroke="#d1183f"/><path d="M1120.05 261.6H1136.05M1158.95 261.6H1171.45" stroke="#5cbb46"/></g><g clip-path="url(#vb3)" fill="none" stroke-width="7.5" stroke-linecap="round"><path d="M1215.35 171.9H1231.35M1253.75 171.9H1266.25" stroke="#6cbe45"/><path d="M1212.05 211.4H1228.05M1250.75 211.4H1263.25" stroke="#d1183f"/><path d="M1215.85 242H1231.85M1254.55 242H1267.05" stroke="#3bb55c"/></g><g clip-path="url(#vb4)" fill="none" stroke-width="7.5" stroke-linecap="round"><path d="M1306.55 172.3H1322.55M1345.25 172.3H1357.75" stroke="#6cbe45"/><path d="M1308.55 221.6H1324.55M1347.75 221.6H1360.25" stroke="#d1183f"/><path d="M1315.45 250.4H1331.45" stroke="#3bb55c" clip-path="url(#zbp)"/><path d="M1315.45 250.4H1331.45" stroke="#5cbb46" clip-path="url(#zbk)"/></g><g clip-path="url(#vb5)" fill="none" stroke-width="7.5" stroke-linecap="round"><path d="M1411.05 193.7H1427.05" stroke="#6cbe45" clip-path="url(#zbg)"/><path d="M1411.05 193.7H1427.05" stroke="#3bb55c" clip-path="url(#zbp)"/><path d="M1399.45 231.6H1415.45M1438.65 231.6H1451.15" stroke="#d1183f"/><path d="M1403.85 257.8H1419.85M1442.85 257.8H1455.35" stroke="#5cbb46"/></g><g fill="none" stroke="#3b53a8" stroke-width="4.9" stroke-linejoin="round"><path d="M1049.3 100.5L1057.1 100.5C1057.47 101.8 1057.93 102.69 1058.2 104.4C1058.69 107.48 1058.74 113.65 1058.7 117.6C1058.67 120.83 1058.51 123.18 1058.2 126.4C1057.82 130.34 1056.65 135.87 1056.4 139.5C1056.22 142.07 1055.98 144.05 1056.4 146.1C1056.79 148.03 1057.53 149.61 1058.7 151.5C1060.27 154.04 1063.38 156.92 1065.6 159.6C1067.74 162.18 1070.55 164.62 1071.8 167.3C1072.87 169.61 1073.17 172.11 1073.2 174.5C1073.23 176.87 1072.52 179.06 1072 181.6C1071.39 184.59 1070.54 188.1 1069.7 191.3C1068.87 194.47 1067.58 197.66 1067 200.7C1066.47 203.48 1066.07 205.98 1066.2 208.8C1066.35 211.92 1067.47 215.09 1068.1 218.6C1068.83 222.67 1069.74 227.58 1070.3 231.8C1070.81 235.65 1070.42 239.5 1071.4 242.9C1072.32 246.1 1074.29 248.88 1075.8 251.7C1077.23 254.37 1079.27 256.98 1080.2 259.4C1080.94 261.33 1081.43 262.98 1081.4 264.9C1081.36 267.03 1080.79 269.62 1079.7 271.6C1078.58 273.63 1076.37 275.13 1074.7 276.9L1031.7 276.9C1030.03 275.13 1027.82 273.63 1026.7 271.6C1025.61 269.62 1025.04 267.03 1025 264.9C1024.97 262.98 1025.46 261.33 1026.2 259.4C1027.13 256.98 1029.17 254.37 1030.6 251.7C1032.11 248.88 1034.08 246.1 1035 242.9C1035.98 239.5 1035.59 235.65 1036.1 231.8C1036.66 227.58 1037.57 222.67 1038.3 218.6C1038.93 215.09 1040.05 211.92 1040.2 208.8C1040.33 205.98 1039.93 203.48 1039.4 200.7C1038.82 197.66 1037.53 194.47 1036.7 191.3C1035.86 188.1 1035.01 184.59 1034.4 181.6C1033.88 179.06 1033.17 176.87 1033.2 174.5C1033.23 172.11 1033.53 169.61 1034.6 167.3C1035.85 164.62 1038.66 162.18 1040.8 159.6C1043.02 156.92 1046.13 154.04 1047.7 151.5C1048.87 149.61 1049.61 148.03 1050 146.1C1050.42 144.05 1050.18 142.07 1050 139.5C1049.75 135.87 1048.58 130.34 1048.2 126.4C1047.89 123.18 1047.73 120.83 1047.7 117.6C1047.66 113.65 1047.71 107.48 1048.2 104.4C1048.47 102.69 1048.93 101.8 1049.3 100.5Z"/><path d="M1144.65 124.9L1149.25 124.9C1149.25 126.73 1149.03 128.51 1149.25 130.4C1149.49 132.47 1150.14 134.68 1150.75 136.8C1151.37 138.95 1152.12 140.94 1152.95 143.2C1153.9 145.8 1154.84 148.87 1156.15 151.5C1157.45 154.1 1158.98 156.51 1160.75 158.9C1162.62 161.42 1165.09 163.83 1167.15 166.2C1169.08 168.43 1171.47 170.4 1172.75 172.7C1173.88 174.73 1174.64 177.25 1174.75 179.1C1174.83 180.49 1174.54 181.49 1174.05 182.8C1173.41 184.5 1172.03 186.34 1170.85 188.3C1169.47 190.59 1167.63 193.72 1166.25 195.7C1165.27 197.11 1164.38 197.71 1163.55 199.2C1162.38 201.31 1160.84 204.79 1160.45 207.5C1160.1 209.95 1160.31 212.4 1160.95 214.7C1161.61 217.07 1163.23 219.14 1164.45 221.5C1165.78 224.08 1167.66 226.87 1168.65 229.6C1169.57 232.14 1170.24 234.43 1170.35 237.3C1170.49 240.89 1168.43 245.78 1168.65 249.5C1168.84 252.69 1169.91 255.51 1170.95 258.3C1171.96 261.01 1174.3 263.58 1174.75 266C1175.12 267.96 1174.89 269.93 1174.25 271.6C1173.62 273.26 1172.33 274.71 1170.95 276C1169.43 277.42 1167.22 278.4 1165.35 279.6L1128.55 279.6C1126.68 278.4 1124.47 277.42 1122.95 276C1121.57 274.71 1120.28 273.26 1119.65 271.6C1119.01 269.93 1118.78 267.96 1119.15 266C1119.6 263.58 1121.94 261.01 1122.95 258.3C1123.99 255.51 1125.06 252.69 1125.25 249.5C1125.47 245.78 1123.41 240.89 1123.55 237.3C1123.66 234.43 1124.33 232.14 1125.25 229.6C1126.24 226.87 1128.12 224.08 1129.45 221.5C1130.67 219.14 1132.29 217.07 1132.95 214.7C1133.59 212.4 1133.8 209.95 1133.45 207.5C1133.06 204.79 1131.52 201.31 1130.35 199.2C1129.52 197.71 1128.63 197.11 1127.65 195.7C1126.27 193.72 1124.43 190.59 1123.05 188.3C1121.87 186.34 1120.49 184.5 1119.85 182.8C1119.36 181.49 1119.07 180.49 1119.15 179.1C1119.26 177.25 1120.02 174.73 1121.15 172.7C1122.43 170.4 1124.82 168.43 1126.75 166.2C1128.81 163.83 1131.28 161.42 1133.15 158.9C1134.92 156.51 1136.45 154.1 1137.75 151.5C1139.06 148.87 1140 145.8 1140.95 143.2C1141.78 140.94 1142.53 138.95 1143.15 136.8C1143.76 134.68 1144.41 132.47 1144.65 130.4C1144.87 128.51 1144.65 126.73 1144.65 124.9Z"/><path d="M1236.1 129.4L1245.5 129.4C1246.07 131.23 1246.32 133.05 1247.2 134.9C1248.23 137.07 1249.68 139.39 1251.6 141.5C1253.91 144.03 1257.83 146.21 1260.5 148.7C1262.95 150.99 1265.86 153.27 1267.1 155.8C1268.14 157.92 1268.27 160.06 1268.2 162.5C1268.12 165.49 1266.47 169.75 1266 172.4C1265.69 174.15 1265.37 175.04 1265.4 176.8C1265.44 179.46 1266.8 183.29 1267.1 186.8C1267.42 190.63 1266.92 194.87 1267.1 198.9C1267.28 202.94 1268.05 207.73 1268.2 211C1268.3 213.22 1268.34 214.43 1268.2 216.6C1268.01 219.62 1267.17 223.78 1266.8 227.4C1266.43 231.04 1266.58 235.07 1266 238.4C1265.5 241.25 1264.91 243.79 1263.8 246.2C1262.7 248.59 1260.43 250.63 1259.4 252.8C1258.52 254.65 1257.68 256.39 1257.7 258.3C1257.72 260.4 1259.2 262.69 1259.9 264.9C1260.6 267.12 1261.9 269.56 1261.9 271.6C1261.9 273.31 1260.97 274.73 1260.5 276.3L1221.1 276.3C1220.63 274.73 1219.7 273.31 1219.7 271.6C1219.7 269.56 1221 267.12 1221.7 264.9C1222.4 262.69 1223.88 260.4 1223.9 258.3C1223.92 256.39 1223.08 254.65 1222.2 252.8C1221.17 250.63 1218.9 248.59 1217.8 246.2C1216.69 243.79 1216.1 241.25 1215.6 238.4C1215.02 235.07 1215.17 231.04 1214.8 227.4C1214.43 223.78 1213.59 219.62 1213.4 216.6C1213.26 214.43 1213.3 213.22 1213.4 211C1213.55 207.73 1214.32 202.94 1214.5 198.9C1214.68 194.87 1214.18 190.63 1214.5 186.8C1214.8 183.29 1216.16 179.46 1216.2 176.8C1216.23 175.04 1215.91 174.15 1215.6 172.4C1215.13 169.75 1213.48 165.49 1213.4 162.5C1213.33 160.06 1213.46 157.92 1214.5 155.8C1215.74 153.27 1218.65 150.99 1221.1 148.7C1223.77 146.21 1227.69 144.03 1230 141.5C1231.92 139.39 1233.37 137.07 1234.4 134.9C1235.28 133.05 1235.53 131.23 1236.1 129.4Z"/><path d="M1332.5 78.6L1336.7 78.6C1336.6 81.43 1336.63 84.09 1336.4 87.1C1336.14 90.54 1335.34 94.05 1335.1 98.1C1334.81 103.06 1334.5 110.07 1335.1 114.7C1335.54 118.13 1336.44 120.51 1337.4 123.5C1338.44 126.73 1339.69 130.14 1341.2 133.4C1342.77 136.78 1344.74 140.01 1346.7 143.4C1348.79 147 1351.27 150.93 1353.4 154.4C1355.32 157.53 1357.47 160.5 1358.9 163.3C1360.08 165.61 1361.2 167.86 1361.6 169.9C1361.92 171.54 1361.96 172.88 1361.6 174.5C1361.16 176.53 1359.8 178.69 1358.6 181C1357.16 183.77 1355.05 187.04 1353.4 189.9C1351.87 192.56 1349.93 195.18 1349 197.6C1348.26 199.53 1347.67 201.13 1347.8 203.1C1347.96 205.47 1349.12 208.37 1350.6 210.8C1352.29 213.57 1355.71 215.92 1357.8 218.6C1359.74 221.1 1362.02 223.85 1362.8 226.3C1363.4 228.2 1363.44 229.87 1363 231.8C1362.44 234.24 1360.4 237.04 1358.9 239.6C1357.37 242.21 1355 244.74 1353.9 247.3C1352.95 249.5 1352.25 251.62 1352.3 253.9C1352.35 256.37 1353.6 259.05 1354.5 261.6C1355.42 264.22 1357.45 266.98 1357.8 269.4C1358.09 271.35 1357.84 273.21 1357.2 274.9C1356.55 276.62 1355 278.03 1353.9 279.6L1315.3 279.6C1314.2 278.03 1312.65 276.62 1312 274.9C1311.36 273.21 1311.11 271.35 1311.4 269.4C1311.75 266.98 1313.78 264.22 1314.7 261.6C1315.6 259.05 1316.85 256.37 1316.9 253.9C1316.95 251.62 1316.25 249.5 1315.3 247.3C1314.2 244.74 1311.83 242.21 1310.3 239.6C1308.8 237.04 1306.76 234.24 1306.2 231.8C1305.76 229.87 1305.8 228.2 1306.4 226.3C1307.18 223.85 1309.46 221.1 1311.4 218.6C1313.49 215.92 1316.91 213.57 1318.6 210.8C1320.08 208.37 1321.24 205.47 1321.4 203.1C1321.53 201.13 1320.94 199.53 1320.2 197.6C1319.27 195.18 1317.33 192.56 1315.8 189.9C1314.15 187.04 1312.04 183.77 1310.6 181C1309.4 178.69 1308.04 176.53 1307.6 174.5C1307.24 172.88 1307.28 171.54 1307.6 169.9C1308 167.86 1309.12 165.61 1310.3 163.3C1311.73 160.5 1313.88 157.53 1315.8 154.4C1317.93 150.93 1320.41 147 1322.5 143.4C1324.46 140.01 1326.43 136.78 1328 133.4C1329.51 130.14 1330.76 126.73 1331.8 123.5C1332.76 120.51 1333.66 118.13 1334.1 114.7C1334.7 110.07 1334.39 103.06 1334.1 98.1C1333.86 94.05 1333.06 90.54 1332.8 87.1C1332.57 84.09 1332.6 81.43 1332.5 78.6Z"/><path d="M1423.6 131.9L1433 131.9C1433.2 134.2 1433.22 136.31 1433.6 138.8C1434.06 141.82 1434.97 145.41 1435.8 148.7C1436.64 152.01 1437.51 155.32 1438.6 158.6C1439.71 161.95 1441.48 165.23 1442.4 168.6C1443.29 171.87 1443.84 175.4 1444.1 178.5C1444.33 181.22 1443.96 183.4 1444.1 186.2C1444.27 189.57 1444.81 193.83 1445.2 197.3C1445.55 200.38 1445.74 203.16 1446.3 206C1446.85 208.79 1447.37 211.41 1448.5 214.2C1449.8 217.42 1452.62 220.82 1454 224.1C1455.24 227.05 1456.44 230.29 1456.6 232.9C1456.73 234.93 1456.18 236.37 1455.7 238.4C1455.07 241.03 1453.67 244.54 1452.9 247.3C1452.25 249.65 1451.25 251.62 1451.3 253.9C1451.35 256.37 1452.87 259.01 1453.5 261.6C1454.13 264.18 1455.14 266.91 1455.1 269.4C1455.06 271.7 1454.54 274.26 1453.5 276C1452.59 277.52 1450.9 278.33 1449.6 279.5L1407 279.5C1405.7 278.33 1404.01 277.52 1403.1 276C1402.06 274.26 1401.54 271.7 1401.5 269.4C1401.46 266.91 1402.47 264.18 1403.1 261.6C1403.73 259.01 1405.25 256.37 1405.3 253.9C1405.35 251.62 1404.35 249.65 1403.7 247.3C1402.93 244.54 1401.53 241.03 1400.9 238.4C1400.42 236.37 1399.87 234.93 1400 232.9C1400.16 230.29 1401.36 227.05 1402.6 224.1C1403.98 220.82 1406.8 217.42 1408.1 214.2C1409.23 211.41 1409.75 208.79 1410.3 206C1410.86 203.16 1411.05 200.38 1411.4 197.3C1411.79 193.83 1412.33 189.57 1412.5 186.2C1412.64 183.4 1412.27 181.22 1412.5 178.5C1412.76 175.4 1413.31 171.87 1414.2 168.6C1415.12 165.23 1416.89 161.95 1418 158.6C1419.09 155.32 1419.96 152.01 1420.8 148.7C1421.63 145.41 1422.54 141.82 1423 138.8C1423.38 136.31 1423.4 134.2 1423.6 131.9Z"/></g><g fill="none" stroke="#4c41a3" stroke-width="4.9" stroke-linejoin="round" clip-path="url(#zbk)"><path d="M1049.3 100.5L1057.1 100.5C1057.47 101.8 1057.93 102.69 1058.2 104.4C1058.69 107.48 1058.74 113.65 1058.7 117.6C1058.67 120.83 1058.51 123.18 1058.2 126.4C1057.82 130.34 1056.65 135.87 1056.4 139.5C1056.22 142.07 1055.98 144.05 1056.4 146.1C1056.79 148.03 1057.53 149.61 1058.7 151.5C1060.27 154.04 1063.38 156.92 1065.6 159.6C1067.74 162.18 1070.55 164.62 1071.8 167.3C1072.87 169.61 1073.17 172.11 1073.2 174.5C1073.23 176.87 1072.52 179.06 1072 181.6C1071.39 184.59 1070.54 188.1 1069.7 191.3C1068.87 194.47 1067.58 197.66 1067 200.7C1066.47 203.48 1066.07 205.98 1066.2 208.8C1066.35 211.92 1067.47 215.09 1068.1 218.6C1068.83 222.67 1069.74 227.58 1070.3 231.8C1070.81 235.65 1070.42 239.5 1071.4 242.9C1072.32 246.1 1074.29 248.88 1075.8 251.7C1077.23 254.37 1079.27 256.98 1080.2 259.4C1080.94 261.33 1081.43 262.98 1081.4 264.9C1081.36 267.03 1080.79 269.62 1079.7 271.6C1078.58 273.63 1076.37 275.13 1074.7 276.9L1031.7 276.9C1030.03 275.13 1027.82 273.63 1026.7 271.6C1025.61 269.62 1025.04 267.03 1025 264.9C1024.97 262.98 1025.46 261.33 1026.2 259.4C1027.13 256.98 1029.17 254.37 1030.6 251.7C1032.11 248.88 1034.08 246.1 1035 242.9C1035.98 239.5 1035.59 235.65 1036.1 231.8C1036.66 227.58 1037.57 222.67 1038.3 218.6C1038.93 215.09 1040.05 211.92 1040.2 208.8C1040.33 205.98 1039.93 203.48 1039.4 200.7C1038.82 197.66 1037.53 194.47 1036.7 191.3C1035.86 188.1 1035.01 184.59 1034.4 181.6C1033.88 179.06 1033.17 176.87 1033.2 174.5C1033.23 172.11 1033.53 169.61 1034.6 167.3C1035.85 164.62 1038.66 162.18 1040.8 159.6C1043.02 156.92 1046.13 154.04 1047.7 151.5C1048.87 149.61 1049.61 148.03 1050 146.1C1050.42 144.05 1050.18 142.07 1050 139.5C1049.75 135.87 1048.58 130.34 1048.2 126.4C1047.89 123.18 1047.73 120.83 1047.7 117.6C1047.66 113.65 1047.71 107.48 1048.2 104.4C1048.47 102.69 1048.93 101.8 1049.3 100.5Z"/><path d="M1144.65 124.9L1149.25 124.9C1149.25 126.73 1149.03 128.51 1149.25 130.4C1149.49 132.47 1150.14 134.68 1150.75 136.8C1151.37 138.95 1152.12 140.94 1152.95 143.2C1153.9 145.8 1154.84 148.87 1156.15 151.5C1157.45 154.1 1158.98 156.51 1160.75 158.9C1162.62 161.42 1165.09 163.83 1167.15 166.2C1169.08 168.43 1171.47 170.4 1172.75 172.7C1173.88 174.73 1174.64 177.25 1174.75 179.1C1174.83 180.49 1174.54 181.49 1174.05 182.8C1173.41 184.5 1172.03 186.34 1170.85 188.3C1169.47 190.59 1167.63 193.72 1166.25 195.7C1165.27 197.11 1164.38 197.71 1163.55 199.2C1162.38 201.31 1160.84 204.79 1160.45 207.5C1160.1 209.95 1160.31 212.4 1160.95 214.7C1161.61 217.07 1163.23 219.14 1164.45 221.5C1165.78 224.08 1167.66 226.87 1168.65 229.6C1169.57 232.14 1170.24 234.43 1170.35 237.3C1170.49 240.89 1168.43 245.78 1168.65 249.5C1168.84 252.69 1169.91 255.51 1170.95 258.3C1171.96 261.01 1174.3 263.58 1174.75 266C1175.12 267.96 1174.89 269.93 1174.25 271.6C1173.62 273.26 1172.33 274.71 1170.95 276C1169.43 277.42 1167.22 278.4 1165.35 279.6L1128.55 279.6C1126.68 278.4 1124.47 277.42 1122.95 276C1121.57 274.71 1120.28 273.26 1119.65 271.6C1119.01 269.93 1118.78 267.96 1119.15 266C1119.6 263.58 1121.94 261.01 1122.95 258.3C1123.99 255.51 1125.06 252.69 1125.25 249.5C1125.47 245.78 1123.41 240.89 1123.55 237.3C1123.66 234.43 1124.33 232.14 1125.25 229.6C1126.24 226.87 1128.12 224.08 1129.45 221.5C1130.67 219.14 1132.29 217.07 1132.95 214.7C1133.59 212.4 1133.8 209.95 1133.45 207.5C1133.06 204.79 1131.52 201.31 1130.35 199.2C1129.52 197.71 1128.63 197.11 1127.65 195.7C1126.27 193.72 1124.43 190.59 1123.05 188.3C1121.87 186.34 1120.49 184.5 1119.85 182.8C1119.36 181.49 1119.07 180.49 1119.15 179.1C1119.26 177.25 1120.02 174.73 1121.15 172.7C1122.43 170.4 1124.82 168.43 1126.75 166.2C1128.81 163.83 1131.28 161.42 1133.15 158.9C1134.92 156.51 1136.45 154.1 1137.75 151.5C1139.06 148.87 1140 145.8 1140.95 143.2C1141.78 140.94 1142.53 138.95 1143.15 136.8C1143.76 134.68 1144.41 132.47 1144.65 130.4C1144.87 128.51 1144.65 126.73 1144.65 124.9Z"/><path d="M1236.1 129.4L1245.5 129.4C1246.07 131.23 1246.32 133.05 1247.2 134.9C1248.23 137.07 1249.68 139.39 1251.6 141.5C1253.91 144.03 1257.83 146.21 1260.5 148.7C1262.95 150.99 1265.86 153.27 1267.1 155.8C1268.14 157.92 1268.27 160.06 1268.2 162.5C1268.12 165.49 1266.47 169.75 1266 172.4C1265.69 174.15 1265.37 175.04 1265.4 176.8C1265.44 179.46 1266.8 183.29 1267.1 186.8C1267.42 190.63 1266.92 194.87 1267.1 198.9C1267.28 202.94 1268.05 207.73 1268.2 211C1268.3 213.22 1268.34 214.43 1268.2 216.6C1268.01 219.62 1267.17 223.78 1266.8 227.4C1266.43 231.04 1266.58 235.07 1266 238.4C1265.5 241.25 1264.91 243.79 1263.8 246.2C1262.7 248.59 1260.43 250.63 1259.4 252.8C1258.52 254.65 1257.68 256.39 1257.7 258.3C1257.72 260.4 1259.2 262.69 1259.9 264.9C1260.6 267.12 1261.9 269.56 1261.9 271.6C1261.9 273.31 1260.97 274.73 1260.5 276.3L1221.1 276.3C1220.63 274.73 1219.7 273.31 1219.7 271.6C1219.7 269.56 1221 267.12 1221.7 264.9C1222.4 262.69 1223.88 260.4 1223.9 258.3C1223.92 256.39 1223.08 254.65 1222.2 252.8C1221.17 250.63 1218.9 248.59 1217.8 246.2C1216.69 243.79 1216.1 241.25 1215.6 238.4C1215.02 235.07 1215.17 231.04 1214.8 227.4C1214.43 223.78 1213.59 219.62 1213.4 216.6C1213.26 214.43 1213.3 213.22 1213.4 211C1213.55 207.73 1214.32 202.94 1214.5 198.9C1214.68 194.87 1214.18 190.63 1214.5 186.8C1214.8 183.29 1216.16 179.46 1216.2 176.8C1216.23 175.04 1215.91 174.15 1215.6 172.4C1215.13 169.75 1213.48 165.49 1213.4 162.5C1213.33 160.06 1213.46 157.92 1214.5 155.8C1215.74 153.27 1218.65 150.99 1221.1 148.7C1223.77 146.21 1227.69 144.03 1230 141.5C1231.92 139.39 1233.37 137.07 1234.4 134.9C1235.28 133.05 1235.53 131.23 1236.1 129.4Z"/><path d="M1332.5 78.6L1336.7 78.6C1336.6 81.43 1336.63 84.09 1336.4 87.1C1336.14 90.54 1335.34 94.05 1335.1 98.1C1334.81 103.06 1334.5 110.07 1335.1 114.7C1335.54 118.13 1336.44 120.51 1337.4 123.5C1338.44 126.73 1339.69 130.14 1341.2 133.4C1342.77 136.78 1344.74 140.01 1346.7 143.4C1348.79 147 1351.27 150.93 1353.4 154.4C1355.32 157.53 1357.47 160.5 1358.9 163.3C1360.08 165.61 1361.2 167.86 1361.6 169.9C1361.92 171.54 1361.96 172.88 1361.6 174.5C1361.16 176.53 1359.8 178.69 1358.6 181C1357.16 183.77 1355.05 187.04 1353.4 189.9C1351.87 192.56 1349.93 195.18 1349 197.6C1348.26 199.53 1347.67 201.13 1347.8 203.1C1347.96 205.47 1349.12 208.37 1350.6 210.8C1352.29 213.57 1355.71 215.92 1357.8 218.6C1359.74 221.1 1362.02 223.85 1362.8 226.3C1363.4 228.2 1363.44 229.87 1363 231.8C1362.44 234.24 1360.4 237.04 1358.9 239.6C1357.37 242.21 1355 244.74 1353.9 247.3C1352.95 249.5 1352.25 251.62 1352.3 253.9C1352.35 256.37 1353.6 259.05 1354.5 261.6C1355.42 264.22 1357.45 266.98 1357.8 269.4C1358.09 271.35 1357.84 273.21 1357.2 274.9C1356.55 276.62 1355 278.03 1353.9 279.6L1315.3 279.6C1314.2 278.03 1312.65 276.62 1312 274.9C1311.36 273.21 1311.11 271.35 1311.4 269.4C1311.75 266.98 1313.78 264.22 1314.7 261.6C1315.6 259.05 1316.85 256.37 1316.9 253.9C1316.95 251.62 1316.25 249.5 1315.3 247.3C1314.2 244.74 1311.83 242.21 1310.3 239.6C1308.8 237.04 1306.76 234.24 1306.2 231.8C1305.76 229.87 1305.8 228.2 1306.4 226.3C1307.18 223.85 1309.46 221.1 1311.4 218.6C1313.49 215.92 1316.91 213.57 1318.6 210.8C1320.08 208.37 1321.24 205.47 1321.4 203.1C1321.53 201.13 1320.94 199.53 1320.2 197.6C1319.27 195.18 1317.33 192.56 1315.8 189.9C1314.15 187.04 1312.04 183.77 1310.6 181C1309.4 178.69 1308.04 176.53 1307.6 174.5C1307.24 172.88 1307.28 171.54 1307.6 169.9C1308 167.86 1309.12 165.61 1310.3 163.3C1311.73 160.5 1313.88 157.53 1315.8 154.4C1317.93 150.93 1320.41 147 1322.5 143.4C1324.46 140.01 1326.43 136.78 1328 133.4C1329.51 130.14 1330.76 126.73 1331.8 123.5C1332.76 120.51 1333.66 118.13 1334.1 114.7C1334.7 110.07 1334.39 103.06 1334.1 98.1C1333.86 94.05 1333.06 90.54 1332.8 87.1C1332.57 84.09 1332.6 81.43 1332.5 78.6Z"/><path d="M1423.6 131.9L1433 131.9C1433.2 134.2 1433.22 136.31 1433.6 138.8C1434.06 141.82 1434.97 145.41 1435.8 148.7C1436.64 152.01 1437.51 155.32 1438.6 158.6C1439.71 161.95 1441.48 165.23 1442.4 168.6C1443.29 171.87 1443.84 175.4 1444.1 178.5C1444.33 181.22 1443.96 183.4 1444.1 186.2C1444.27 189.57 1444.81 193.83 1445.2 197.3C1445.55 200.38 1445.74 203.16 1446.3 206C1446.85 208.79 1447.37 211.41 1448.5 214.2C1449.8 217.42 1452.62 220.82 1454 224.1C1455.24 227.05 1456.44 230.29 1456.6 232.9C1456.73 234.93 1456.18 236.37 1455.7 238.4C1455.07 241.03 1453.67 244.54 1452.9 247.3C1452.25 249.65 1451.25 251.62 1451.3 253.9C1451.35 256.37 1452.87 259.01 1453.5 261.6C1454.13 264.18 1455.14 266.91 1455.1 269.4C1455.06 271.7 1454.54 274.26 1453.5 276C1452.59 277.52 1450.9 278.33 1449.6 279.5L1407 279.5C1405.7 278.33 1404.01 277.52 1403.1 276C1402.06 274.26 1401.54 271.7 1401.5 269.4C1401.46 266.91 1402.47 264.18 1403.1 261.6C1403.73 259.01 1405.25 256.37 1405.3 253.9C1405.35 251.62 1404.35 249.65 1403.7 247.3C1402.93 244.54 1401.53 241.03 1400.9 238.4C1400.42 236.37 1399.87 234.93 1400 232.9C1400.16 230.29 1401.36 227.05 1402.6 224.1C1403.98 220.82 1406.8 217.42 1408.1 214.2C1409.23 211.41 1409.75 208.79 1410.3 206C1410.86 203.16 1411.05 200.38 1411.4 197.3C1411.79 193.83 1412.33 189.57 1412.5 186.2C1412.64 183.4 1412.27 181.22 1412.5 178.5C1412.76 175.4 1413.31 171.87 1414.2 168.6C1415.12 165.23 1416.89 161.95 1418 158.6C1419.09 155.32 1419.96 152.01 1420.8 148.7C1421.63 145.41 1422.54 141.82 1423 138.8C1423.38 136.31 1423.4 134.2 1423.6 131.9Z"/></g>
<g transform="translate(871.2 0)"><path d="M120.1 71.98h5.6M620.95 71.98h-5.6" stroke="#0e2f12" stroke-width="2" fill="none"/><path d="M120.1 132.04h5.6M620.95 132.04h-5.6" stroke="#0e2f12" stroke-width="2" fill="none"/><path d="M120.1 11.6V192M620.95 11.6V192" stroke="#0e2f12" stroke-width="2.2" fill="none"/><path d="M120.1 192V252.16M620.95 192V252.16" stroke="#0a0830" stroke-width="2.2" fill="none"/><path d="M120.1 252.16V312M620.95 252.16V312" stroke="#2a0608" stroke-width="2.2" fill="none"/><path d="M119 11.6H622.05" stroke="#06080a" stroke-width="2.2" fill="none"/><path d="M119 312H622.05" stroke="#2a0608" stroke-width="2.2" fill="none"/><g font-size="28.8" text-anchor="end" fill="#000"><text transform="translate(112.9 21.52) scale(0.93 1)">6</text><text transform="translate(112.9 81.58) scale(0.93 1)">4</text><text transform="translate(112.9 141.64) scale(0.93 1)">2</text><text transform="translate(112.9 201.7) scale(0.93 1)">0</text><text transform="translate(112.9 261.76) scale(0.93 1)">-2</text><text transform="translate(112.9 321.82) scale(0.93 1)">-4</text></g><text font-size="36.4" text-anchor="middle" transform="translate(68.5 184) rotate(-90)">DSOS(mm)</text><g font-size="29" text-anchor="end" fill="#000"><text transform="translate(189.9 338.6) rotate(-45)" textLength="30.6" lengthAdjust="spacingAndGlyphs">L1</text><text transform="translate(283.7 338.6) rotate(-45)" textLength="30.6" lengthAdjust="spacingAndGlyphs">L2</text><text transform="translate(377.5 338.6) rotate(-45)" textLength="30.6" lengthAdjust="spacingAndGlyphs">L3</text><text transform="translate(471.3 338.6) rotate(-45)" textLength="30.6" lengthAdjust="spacingAndGlyphs">L4</text><text transform="translate(565.1 338.6) rotate(-45)" textLength="30.6" lengthAdjust="spacingAndGlyphs">L5</text></g><g font-size="29" fill="#000"><text x="629.6" y="112.1" textLength="68.6" lengthAdjust="spacingAndGlyphs">MGM</text><text x="629.6" y="231.7" textLength="55.9" lengthAdjust="spacingAndGlyphs">CAE</text><text x="629.6" y="292.3" textLength="182.6" lengthAdjust="spacingAndGlyphs">Non-acceptable</text></g></g>
<!-- panel c -->
<g transform="translate(435.55 563.2)"><rect x="120.1" y="12.6" width="503.15" height="179.4" fill="#c8e2b5"/><rect x="120.1" y="192" width="500.85" height="60.16" fill="#c2c0e0"/><rect x="120.1" y="252.16" width="500.85" height="59.84" fill="#f7bfc0"/><line x1="119.1" y1="71.98" x2="620.95" y2="71.98" stroke="#16401c" stroke-width="2.4" stroke-dasharray="7.3 5.43"/><line x1="119.1" y1="132.04" x2="620.95" y2="132.04" stroke="#16401c" stroke-width="2.4" stroke-dasharray="7.3 5.43"/><line x1="119.1" y1="252.16" x2="620.95" y2="252.16" stroke="#220a10" stroke-width="2.4" stroke-dasharray="7.3 5.43"/><line x1="120.1" y1="191.85" x2="620.95" y2="191.85" stroke="#0a2e22" stroke-width="2.6"/></g>
<g clip-path="url(#vc1)" fill="none" stroke-width="7.5" stroke-linecap="round"><path d="M600.95 722.3H616.95" stroke="#6cbe45"/><path d="M589.05 743.9H605.05M627.95 743.9H640.45" stroke="#d0472a"/><path d="M594.05 763.5H610.05M632.95 763.5H645.45" stroke="#3bb55c"/></g><g clip-path="url(#vc2)" fill="none" stroke-width="7.5" stroke-linecap="round"><path d="M688.45 726H704.45M727.45 726H739.95" stroke="#6cbe45"/><path d="M687.05 744.5H703.05M726.25 744.5H738.75" stroke="#d0472a"/><path d="M682.85 766H698.85M722.15 766H734.65" stroke="#3bb55c"/></g><g clip-path="url(#vc3)" fill="none" stroke-width="7.5" stroke-linecap="round"><path d="M787.45 707.6H803.45" stroke="#6cbe45"/><path d="M776.25 725.8H792.25M815.25 725.8H827.75" stroke="#d0472a"/><path d="M784.25 738.7H800.25M822.95 738.7H835.45" stroke="#6cbe45"/></g><g clip-path="url(#vc4)" fill="none" stroke-width="7.5" stroke-linecap="round"><path d="M879.95 717.2H895.95" stroke="#6cbe45"/><path d="M871.65 729.6H887.65M910.95 729.6H923.45" stroke="#d0472a"/><path d="M870.95 746.6H886.95M909.55 746.6H922.05" stroke="#6cbe45"/></g><g clip-path="url(#vc5)" fill="none" stroke-width="7.5" stroke-linecap="round"><path d="M964.55 711.3H980.55M1003.35 711.3H1015.85" stroke="#6cbe45"/><path d="M970.65 734.7H986.65M1009.65 734.7H1022.15" stroke="#d0472a"/><path d="M964.25 754.7H980.25M1002.95 754.7H1015.45" stroke="#6cbe45" clip-path="url(#zcg)"/><path d="M964.25 754.7H980.25M1002.95 754.7H1015.45" stroke="#3bb55c" clip-path="url(#zcp)"/></g><g fill="none" stroke="#3b53a8" stroke-width="4.9" stroke-linejoin="round"><path d="M612.9 668.2L622.3 668.2C622.4 671.17 622.55 673.98 622.6 677.1C622.66 680.57 622.29 684.64 622.6 688.1C622.88 691.24 623.24 694.11 624.2 697C625.2 700.02 627.26 702.95 628.6 705.8C629.84 708.44 631.16 710.89 632 713.5C632.81 716.02 632.53 718.83 633.6 721.2C634.7 723.64 636.8 725.72 638.6 727.9C640.46 730.15 643.43 732.18 644.6 734.5C645.57 736.42 645.66 738.26 645.8 740.5C645.97 743.29 645.58 746.91 645.1 750C644.63 753.01 644.04 756.25 643 758.8C642.11 760.98 641.07 762.65 639.6 764.5C637.89 766.66 635.13 768.61 633.1 770.8C631.1 772.95 628.8 775.04 627.5 777.5C626.25 779.86 626.06 782.47 625.3 785.2C624.44 788.29 623.24 791.87 622.6 795.1C622 798.12 621.61 801.2 621.5 804C621.4 806.5 621.7 808.73 621.8 811.1L613.4 811.1C613.5 808.73 613.8 806.5 613.7 804C613.59 801.2 613.2 798.12 612.6 795.1C611.96 791.87 610.76 788.29 609.9 785.2C609.14 782.47 608.95 779.86 607.7 777.5C606.4 775.04 604.1 772.95 602.1 770.8C600.07 768.61 597.31 766.66 595.6 764.5C594.13 762.65 593.09 760.98 592.2 758.8C591.16 756.25 590.57 753.01 590.1 750C589.62 746.91 589.23 743.29 589.4 740.5C589.54 738.26 589.63 736.42 590.6 734.5C591.77 732.18 594.74 730.15 596.6 727.9C598.4 725.72 600.5 723.64 601.6 721.2C602.67 718.83 602.39 716.02 603.2 713.5C604.04 710.89 605.36 708.44 606.6 705.8C607.94 702.95 610 700.02 611 697C611.96 694.11 612.32 691.24 612.6 688.1C612.91 684.64 612.54 680.57 612.6 677.1C612.65 673.98 612.8 671.17 612.9 668.2Z"/><path d="M709.15 669.8L713.55 669.8C713.55 672.37 713.01 675.15 713.55 677.5C714.05 679.69 715.28 681.45 716.45 683.5C717.78 685.84 720.72 688.45 721.25 690.7C721.65 692.38 721.04 693.76 720.65 695.5C720.16 697.68 718 700.36 718.25 702.7C718.51 705.14 720.78 707.3 722.45 709.8C724.46 712.81 727.3 716.32 729.65 719.4C731.86 722.3 734.45 725.17 736.15 727.8C737.51 729.91 739.26 731.79 739.35 733.8C739.44 735.75 737.67 737.72 736.85 739.7C736.03 741.69 734.77 743.57 734.45 745.7C734.11 747.95 734.51 750.45 735.05 752.9C735.66 755.63 737.46 758.77 738.15 761.3C738.7 763.3 739.14 765.17 739.15 766.8C739.16 768.1 739.22 769.18 738.55 770.3C737.59 771.9 734.85 773.28 732.75 774.8C730.39 776.51 727.38 778.2 725.05 780C722.92 781.64 720.74 783.25 719.25 785.1C717.94 786.72 717 788.52 716.35 790.3C715.74 791.96 715.68 793.7 715.35 795.4L707.35 795.4C707.02 793.7 706.96 791.96 706.35 790.3C705.7 788.52 704.76 786.72 703.45 785.1C701.96 783.25 699.78 781.64 697.65 780C695.32 778.2 692.31 776.51 689.95 774.8C687.85 773.28 685.11 771.9 684.15 770.3C683.48 769.18 683.54 768.1 683.55 766.8C683.56 765.17 684 763.3 684.55 761.3C685.24 758.77 687.04 755.63 687.65 752.9C688.19 750.45 688.59 747.95 688.25 745.7C687.93 743.57 686.67 741.69 685.85 739.7C685.03 737.72 683.26 735.75 683.35 733.8C683.44 731.79 685.19 729.91 686.55 727.8C688.25 725.17 690.84 722.3 693.05 719.4C695.4 716.32 698.24 712.81 700.25 709.8C701.92 707.3 704.19 705.14 704.45 702.7C704.7 700.36 702.54 697.68 702.05 695.5C701.66 693.76 701.05 692.38 701.45 690.7C701.98 688.45 704.92 685.84 706.25 683.5C707.42 681.45 708.65 679.69 709.15 677.5C709.69 675.15 709.15 672.37 709.15 669.8Z"/><path d="M801.55 664.3L808.75 664.3C809.75 666.77 811.17 669.46 811.75 671.7C812.2 673.44 812.49 674.83 812.35 676.5C812.19 678.4 810.69 680.66 810.55 682.5C810.44 684.01 810.47 685.19 811.15 686.7C812.2 689.04 816.04 691.72 817.75 694.5C819.35 697.11 820.26 699.99 821.25 702.8C822.22 705.56 822.5 708.47 823.65 711.2C824.86 714.08 826.9 716.91 828.45 719.6C829.89 722.1 832.47 724.62 832.65 726.8C832.79 728.5 831.78 729.77 830.85 731.5C829.52 733.97 826.99 737.14 824.85 739.9C822.64 742.75 819.78 745.82 817.75 748.3C816.18 750.23 814.57 751.69 813.65 753.5C812.83 755.1 812.45 756.79 812.25 758.5C812.05 760.23 812.79 761.98 812.45 763.8C812.06 765.9 810.62 768.21 809.65 770.3C808.72 772.3 807.47 774.12 806.75 776.1C806.06 777.99 805.38 779.94 805.35 781.9C805.32 783.9 806.37 786.12 806.65 788C806.89 789.58 806.92 790.93 807.05 792.4L803.25 792.4C803.38 790.93 803.41 789.58 803.65 788C803.93 786.12 804.98 783.9 804.95 781.9C804.92 779.94 804.24 777.99 803.55 776.1C802.83 774.12 801.58 772.3 800.65 770.3C799.68 768.21 798.24 765.9 797.85 763.8C797.51 761.98 798.25 760.23 798.05 758.5C797.85 756.79 797.47 755.1 796.65 753.5C795.73 751.69 794.12 750.23 792.55 748.3C790.52 745.82 787.66 742.75 785.45 739.9C783.31 737.14 780.78 733.97 779.45 731.5C778.52 729.77 777.51 728.5 777.65 726.8C777.83 724.62 780.41 722.1 781.85 719.6C783.4 716.91 785.44 714.08 786.65 711.2C787.8 708.47 788.08 705.56 789.05 702.8C790.04 699.99 790.95 697.11 792.55 694.5C794.26 691.72 798.1 689.04 799.15 686.7C799.83 685.19 799.86 684.01 799.75 682.5C799.61 680.66 798.11 678.4 797.95 676.5C797.81 674.83 798.1 673.44 798.55 671.7C799.13 669.46 800.55 666.77 801.55 664.3Z"/><path d="M896.4 645.2L901.2 645.2C900.9 647.33 900.63 649.37 900.3 651.6C899.94 654.05 899.2 656.83 899.1 659.3C899.01 661.58 899.31 663.62 899.6 665.9C899.92 668.38 900.77 671.01 901 673.6C901.23 676.18 900.7 678.74 901 681.4C901.32 684.26 902.2 687.64 903 690.2C903.65 692.28 904.16 693.85 905.2 695.7C906.43 697.88 909.53 699.95 910.2 702.3C910.81 704.41 908.94 706.9 909.6 709C910.34 711.37 913.07 713.59 915.1 715.6C917.14 717.62 919.81 719.19 921.8 721.1C923.64 722.86 926.35 724.9 926.7 726.6C926.94 727.77 926.42 728.85 925.6 729.9C924.33 731.53 920.07 732.83 918.5 734.4C917.43 735.47 916.25 736.62 916.4 737.7C916.58 739 919.17 740.17 920.7 741.5C922.41 742.99 925.57 744.51 926.2 746.2C926.67 747.46 926.39 748.98 925.6 750.2C924.46 751.97 921.03 753.27 918.5 754.8C915.73 756.48 912.27 757.96 909.6 759.8C907.15 761.49 904.5 763.41 903 765.3C901.87 766.73 900.99 768.04 900.8 769.7C900.57 771.66 902.36 774.27 902.4 776.4C902.44 778.32 901.84 780.09 901.3 781.9C900.75 783.76 899.56 784.99 899.1 787.4C898.3 791.57 898.6 800.65 899.1 805.1C899.41 807.85 900.34 810.11 900.6 811.7C900.74 812.59 900.73 813.1 900.8 813.8L896.8 813.8C896.87 813.1 896.86 812.59 897 811.7C897.26 810.11 898.19 807.85 898.5 805.1C899 800.65 899.3 791.57 898.5 787.4C898.04 784.99 896.85 783.76 896.3 781.9C895.76 780.09 895.16 778.32 895.2 776.4C895.24 774.27 897.03 771.66 896.8 769.7C896.61 768.04 895.73 766.73 894.6 765.3C893.1 763.41 890.45 761.49 888 759.8C885.33 757.96 881.87 756.48 879.1 754.8C876.57 753.27 873.14 751.97 872 750.2C871.21 748.98 870.93 747.46 871.4 746.2C872.03 744.51 875.19 742.99 876.9 741.5C878.43 740.17 881.02 739 881.2 737.7C881.35 736.62 880.17 735.47 879.1 734.4C877.53 732.83 873.27 731.53 872 729.9C871.18 728.85 870.66 727.77 870.9 726.6C871.25 724.9 873.96 722.86 875.8 721.1C877.79 719.19 880.46 717.62 882.5 715.6C884.53 713.59 887.26 711.37 888 709C888.66 706.9 886.79 704.41 887.4 702.3C888.07 699.95 891.17 697.88 892.4 695.7C893.44 693.85 893.95 692.28 894.6 690.2C895.4 687.64 896.28 684.26 896.6 681.4C896.9 678.74 896.37 676.18 896.6 673.6C896.83 671.01 897.68 668.38 898 665.9C898.29 663.62 898.59 661.58 898.5 659.3C898.4 656.83 897.66 654.05 897.3 651.6C896.97 649.37 896.7 647.33 896.4 645.2Z"/><path d="M989.3 667.1L995.9 667.1C996.1 670.43 995.88 674.02 996.5 677.1C997.06 679.88 997.84 682.25 999.2 684.8C1000.78 687.76 1003.28 690.88 1005.8 693.6C1008.42 696.43 1012.38 698.75 1014.7 701.4C1016.6 703.57 1018.47 705.93 1019.1 708C1019.57 709.54 1019.52 710.85 1019.1 712.4C1018.54 714.45 1016.52 716.91 1015.2 719C1013.96 720.96 1011.97 722.76 1011.4 724.6C1010.94 726.08 1011.03 727.43 1011.4 729C1011.88 731.03 1013.49 733.33 1014.7 735.6C1016.03 738.09 1018.13 740.76 1019.1 743.3C1019.95 745.52 1020.45 747.79 1020.5 749.9C1020.55 751.84 1020.24 753.74 1019.6 755.5C1018.95 757.28 1017.97 758.97 1016.6 760.5C1015 762.28 1012.58 763.57 1010.3 765.3C1007.59 767.35 1003.84 769.75 1001.4 772C999.42 773.83 997.6 775.66 996.5 777.5C995.63 778.96 995.2 780.29 994.9 781.9C994.56 783.74 994.84 785.82 994.8 788C994.75 790.53 994.72 793.7 994.6 796.2C994.5 798.3 994.46 800.2 994.2 802C993.97 803.6 993.17 805 993.2 806.5C993.23 808 993.92 809.56 994.4 811C994.86 812.39 995.65 813.71 996 815C996.31 816.13 996.42 817.11 996.5 818.3C996.59 819.7 996.43 821.37 996.4 822.9L988.8 822.9C988.77 821.37 988.61 819.7 988.7 818.3C988.78 817.11 988.89 816.13 989.2 815C989.55 813.71 990.34 812.39 990.8 811C991.28 809.56 991.97 808 992 806.5C992.03 805 991.23 803.6 991 802C990.74 800.2 990.7 798.3 990.6 796.2C990.48 793.7 990.45 790.53 990.4 788C990.36 785.82 990.64 783.74 990.3 781.9C990 780.29 989.57 778.96 988.7 777.5C987.6 775.66 985.78 773.83 983.8 772C981.36 769.75 977.61 767.35 974.9 765.3C972.62 763.57 970.2 762.28 968.6 760.5C967.23 758.97 966.25 757.28 965.6 755.5C964.96 753.74 964.65 751.84 964.7 749.9C964.75 747.79 965.25 745.52 966.1 743.3C967.07 740.76 969.17 738.09 970.5 735.6C971.71 733.33 973.32 731.03 973.8 729C974.17 727.43 974.26 726.08 973.8 724.6C973.23 722.76 971.24 720.96 970 719C968.68 716.91 966.66 714.45 966.1 712.4C965.68 710.85 965.63 709.54 966.1 708C966.73 705.93 968.6 703.57 970.5 701.4C972.82 698.75 976.78 696.43 979.4 693.6C981.92 690.88 984.42 687.76 986 684.8C987.36 682.25 988.14 679.88 988.7 677.1C989.32 674.02 989.1 670.43 989.3 667.1Z"/></g><g fill="none" stroke="#4c41a3" stroke-width="4.9" stroke-linejoin="round" clip-path="url(#zck)"><path d="M896.4 645.2L901.2 645.2C900.9 647.33 900.63 649.37 900.3 651.6C899.94 654.05 899.2 656.83 899.1 659.3C899.01 661.58 899.31 663.62 899.6 665.9C899.92 668.38 900.77 671.01 901 673.6C901.23 676.18 900.7 678.74 901 681.4C901.32 684.26 902.2 687.64 903 690.2C903.65 692.28 904.16 693.85 905.2 695.7C906.43 697.88 909.53 699.95 910.2 702.3C910.81 704.41 908.94 706.9 909.6 709C910.34 711.37 913.07 713.59 915.1 715.6C917.14 717.62 919.81 719.19 921.8 721.1C923.64 722.86 926.35 724.9 926.7 726.6C926.94 727.77 926.42 728.85 925.6 729.9C924.33 731.53 920.07 732.83 918.5 734.4C917.43 735.47 916.25 736.62 916.4 737.7C916.58 739 919.17 740.17 920.7 741.5C922.41 742.99 925.57 744.51 926.2 746.2C926.67 747.46 926.39 748.98 925.6 750.2C924.46 751.97 921.03 753.27 918.5 754.8C915.73 756.48 912.27 757.96 909.6 759.8C907.15 761.49 904.5 763.41 903 765.3C901.87 766.73 900.99 768.04 900.8 769.7C900.57 771.66 902.36 774.27 902.4 776.4C902.44 778.32 901.84 780.09 901.3 781.9C900.75 783.76 899.56 784.99 899.1 787.4C898.3 791.57 898.6 800.65 899.1 805.1C899.41 807.85 900.34 810.11 900.6 811.7C900.74 812.59 900.73 813.1 900.8 813.8L896.8 813.8C896.87 813.1 896.86 812.59 897 811.7C897.26 810.11 898.19 807.85 898.5 805.1C899 800.65 899.3 791.57 898.5 787.4C898.04 784.99 896.85 783.76 896.3 781.9C895.76 780.09 895.16 778.32 895.2 776.4C895.24 774.27 897.03 771.66 896.8 769.7C896.61 768.04 895.73 766.73 894.6 765.3C893.1 763.41 890.45 761.49 888 759.8C885.33 757.96 881.87 756.48 879.1 754.8C876.57 753.27 873.14 751.97 872 750.2C871.21 748.98 870.93 747.46 871.4 746.2C872.03 744.51 875.19 742.99 876.9 741.5C878.43 740.17 881.02 739 881.2 737.7C881.35 736.62 880.17 735.47 879.1 734.4C877.53 732.83 873.27 731.53 872 729.9C871.18 728.85 870.66 727.77 870.9 726.6C871.25 724.9 873.96 722.86 875.8 721.1C877.79 719.19 880.46 717.62 882.5 715.6C884.53 713.59 887.26 711.37 888 709C888.66 706.9 886.79 704.41 887.4 702.3C888.07 699.95 891.17 697.88 892.4 695.7C893.44 693.85 893.95 692.28 894.6 690.2C895.4 687.64 896.28 684.26 896.6 681.4C896.9 678.74 896.37 676.18 896.6 673.6C896.83 671.01 897.68 668.38 898 665.9C898.29 663.62 898.59 661.58 898.5 659.3C898.4 656.83 897.66 654.05 897.3 651.6C896.97 649.37 896.7 647.33 896.4 645.2Z"/><path d="M989.3 667.1L995.9 667.1C996.1 670.43 995.88 674.02 996.5 677.1C997.06 679.88 997.84 682.25 999.2 684.8C1000.78 687.76 1003.28 690.88 1005.8 693.6C1008.42 696.43 1012.38 698.75 1014.7 701.4C1016.6 703.57 1018.47 705.93 1019.1 708C1019.57 709.54 1019.52 710.85 1019.1 712.4C1018.54 714.45 1016.52 716.91 1015.2 719C1013.96 720.96 1011.97 722.76 1011.4 724.6C1010.94 726.08 1011.03 727.43 1011.4 729C1011.88 731.03 1013.49 733.33 1014.7 735.6C1016.03 738.09 1018.13 740.76 1019.1 743.3C1019.95 745.52 1020.45 747.79 1020.5 749.9C1020.55 751.84 1020.24 753.74 1019.6 755.5C1018.95 757.28 1017.97 758.97 1016.6 760.5C1015 762.28 1012.58 763.57 1010.3 765.3C1007.59 767.35 1003.84 769.75 1001.4 772C999.42 773.83 997.6 775.66 996.5 777.5C995.63 778.96 995.2 780.29 994.9 781.9C994.56 783.74 994.84 785.82 994.8 788C994.75 790.53 994.72 793.7 994.6 796.2C994.5 798.3 994.46 800.2 994.2 802C993.97 803.6 993.17 805 993.2 806.5C993.23 808 993.92 809.56 994.4 811C994.86 812.39 995.65 813.71 996 815C996.31 816.13 996.42 817.11 996.5 818.3C996.59 819.7 996.43 821.37 996.4 822.9L988.8 822.9C988.77 821.37 988.61 819.7 988.7 818.3C988.78 817.11 988.89 816.13 989.2 815C989.55 813.71 990.34 812.39 990.8 811C991.28 809.56 991.97 808 992 806.5C992.03 805 991.23 803.6 991 802C990.74 800.2 990.7 798.3 990.6 796.2C990.48 793.7 990.45 790.53 990.4 788C990.36 785.82 990.64 783.74 990.3 781.9C990 780.29 989.57 778.96 988.7 777.5C987.6 775.66 985.78 773.83 983.8 772C981.36 769.75 977.61 767.35 974.9 765.3C972.62 763.57 970.2 762.28 968.6 760.5C967.23 758.97 966.25 757.28 965.6 755.5C964.96 753.74 964.65 751.84 964.7 749.9C964.75 747.79 965.25 745.52 966.1 743.3C967.07 740.76 969.17 738.09 970.5 735.6C971.71 733.33 973.32 731.03 973.8 729C974.17 727.43 974.26 726.08 973.8 724.6C973.23 722.76 971.24 720.96 970 719C968.68 716.91 966.66 714.45 966.1 712.4C965.68 710.85 965.63 709.54 966.1 708C966.73 705.93 968.6 703.57 970.5 701.4C972.82 698.75 976.78 696.43 979.4 693.6C981.92 690.88 984.42 687.76 986 684.8C987.36 682.25 988.14 679.88 988.7 677.1C989.32 674.02 989.1 670.43 989.3 667.1Z"/></g>
<g transform="translate(435.55 563.2)"><path d="M120.1 71.98h5.6M620.95 71.98h-5.6" stroke="#0e2f12" stroke-width="2" fill="none"/><path d="M120.1 132.04h5.6M620.95 132.04h-5.6" stroke="#0e2f12" stroke-width="2" fill="none"/><path d="M120.1 11.6V192M620.95 11.6V192" stroke="#0e2f12" stroke-width="2.2" fill="none"/><path d="M120.1 192V252.16M620.95 192V252.16" stroke="#0a0830" stroke-width="2.2" fill="none"/><path d="M120.1 252.16V312M620.95 252.16V312" stroke="#2a0608" stroke-width="2.2" fill="none"/><path d="M119 11.6H622.05" stroke="#06080a" stroke-width="2.2" fill="none"/><path d="M119 312H622.05" stroke="#2a0608" stroke-width="2.2" fill="none"/><g font-size="28.8" text-anchor="end" fill="#000"><text transform="translate(112.9 21.52) scale(0.93 1)">6</text><text transform="translate(112.9 81.58) scale(0.93 1)">4</text><text transform="translate(112.9 141.64) scale(0.93 1)">2</text><text transform="translate(112.9 201.7) scale(0.93 1)">0</text><text transform="translate(112.9 261.76) scale(0.93 1)">-2</text><text transform="translate(112.9 321.82) scale(0.93 1)">-4</text></g><text font-size="36.4" text-anchor="middle" transform="translate(68.5 184) rotate(-90)">DSOS(mm)</text><g font-size="29" text-anchor="end" fill="#000"><text transform="translate(189.9 338.6) rotate(-45)" textLength="30.6" lengthAdjust="spacingAndGlyphs">L1</text><text transform="translate(283.7 338.6) rotate(-45)" textLength="30.6" lengthAdjust="spacingAndGlyphs">L2</text><text transform="translate(377.5 338.6) rotate(-45)" textLength="30.6" lengthAdjust="spacingAndGlyphs">L3</text><text transform="translate(471.3 338.6) rotate(-45)" textLength="30.6" lengthAdjust="spacingAndGlyphs">L4</text><text transform="translate(565.1 338.6) rotate(-45)" textLength="30.6" lengthAdjust="spacingAndGlyphs">L5</text></g><g font-size="29" fill="#000"><text x="629.6" y="112.1" textLength="68.6" lengthAdjust="spacingAndGlyphs">MGM</text><text x="629.6" y="231.7" textLength="55.9" lengthAdjust="spacingAndGlyphs">CAE</text><text x="629.6" y="292.3" textLength="182.6" lengthAdjust="spacingAndGlyphs">Non-acceptable</text></g></g>
<g font-size="52" fill="#262324"><text y="455.8"><tspan x="0" textLength="63.5" lengthAdjust="spacingAndGlyphs"><tspan font-size="58">(</tspan>a<tspan font-size="58">)</tspan></tspan> <tspan x="101.5" textLength="204.5" lengthAdjust="spacingAndGlyphs">Kausch’s</tspan> <tspan x="342" textLength="171.5" lengthAdjust="spacingAndGlyphs">method</tspan> <tspan x="553.5" textLength="99" lengthAdjust="spacingAndGlyphs">with</tspan> <tspan x="690.5" textLength="160.5" lengthAdjust="spacingAndGlyphs">normal</tspan></text><text y="522.8"><tspan x="-2" textLength="101" lengthAdjust="spacingAndGlyphs">data</tspan></text><text y="455.8"><tspan x="871" textLength="66" lengthAdjust="spacingAndGlyphs"><tspan font-size="58">(</tspan>b<tspan font-size="58">)</tspan></tspan> <tspan x="955.5" textLength="205" lengthAdjust="spacingAndGlyphs">Kausch’s</tspan> <tspan x="1177.5" textLength="171" lengthAdjust="spacingAndGlyphs">method</tspan> <tspan x="1365.5" textLength="173" lengthAdjust="spacingAndGlyphs">directly</tspan> <tspan x="1559" textLength="99.5" lengthAdjust="spacingAndGlyphs">used</tspan> <tspan x="1677.5" textLength="42.5" lengthAdjust="spacingAndGlyphs">in</tspan></text><text y="522.8"><tspan x="868" textLength="181.5" lengthAdjust="spacingAndGlyphs">scoliosis</tspan> <tspan x="1066.5" textLength="102" lengthAdjust="spacingAndGlyphs">data</tspan></text><text y="1019"><tspan x="436" textLength="59" lengthAdjust="spacingAndGlyphs"><tspan font-size="58">(</tspan>c<tspan font-size="58">)</tspan></tspan> <tspan x="531.5" textLength="204.5" lengthAdjust="spacingAndGlyphs">Kausch’s</tspan> <tspan x="770.5" textLength="171.5" lengthAdjust="spacingAndGlyphs">method</tspan> <tspan x="980" textLength="99.5" lengthAdjust="spacingAndGlyphs">with</tspan> <tspan x="1115" font-size="54.5" textLength="169.5" lengthAdjust="spacingAndGlyphs">YOLO-</tspan></text><text y="1086"><tspan x="435.5" font-size="54.5" textLength="204" lengthAdjust="spacingAndGlyphs">POSE3D</tspan> <tspan x="659" textLength="42" lengthAdjust="spacingAndGlyphs">in</tspan> <tspan x="718" textLength="182.5" lengthAdjust="spacingAndGlyphs">scoliosis</tspan> <tspan x="917" textLength="101.5" lengthAdjust="spacingAndGlyphs">data</tspan></text></g>
</svg>
</body>
</html>
